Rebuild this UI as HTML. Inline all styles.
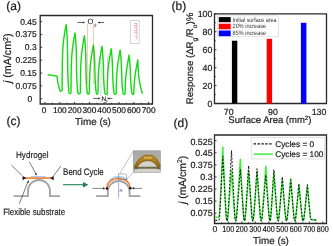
<!DOCTYPE html>
<html><head><meta charset="utf-8"><style>
html,body{margin:0;padding:0;background:#fff;width:333px;height:246px;overflow:hidden}
svg{display:block;will-change:transform}
body{-webkit-font-smoothing:antialiased}
text{text-rendering:geometricPrecision;font-family:"Liberation Sans", sans-serif;stroke:#1a1a1a;stroke-width:0.2px}
</style></head><body>
<svg width="333" height="246" viewBox="0 0 333 246">
<rect width="333" height="246" fill="#fff"/>
<text x="6.3" y="9.8" font-size="12" fill="#1a1a1a">(a)</text>
<path d="M40.2,15.5 H152.5 V104.0 H40.2 Z" fill="none" stroke="#2a2a2a" stroke-width="1.3"/>
<text x="29.8" y="101.7" font-size="8.5" text-anchor="middle" fill="#1a1a1a">0</text>
<text x="36.7" y="88.85" font-size="8.5" text-anchor="end" fill="#1a1a1a">0.075</text>
<text x="36.7" y="76" font-size="8.5" text-anchor="end" fill="#1a1a1a">0.15</text>
<text x="36.7" y="63.16" font-size="8.5" text-anchor="end" fill="#1a1a1a">0.225</text>
<text x="36.7" y="50.31" font-size="8.5" text-anchor="end" fill="#1a1a1a">0.3</text>
<text x="36.7" y="37.46" font-size="8.5" text-anchor="end" fill="#1a1a1a">0.375</text>
<text x="36.7" y="24.62" font-size="8.5" text-anchor="end" fill="#1a1a1a">0.45</text>
<text x="44" y="113.2" font-size="8.3" text-anchor="middle" fill="#1a1a1a">0</text>
<text x="59.8" y="113.2" font-size="8.3" text-anchor="middle" fill="#1a1a1a">100</text>
<text x="74.6" y="113.2" font-size="8.3" text-anchor="middle" fill="#1a1a1a">200</text>
<text x="89.4" y="113.2" font-size="8.3" text-anchor="middle" fill="#1a1a1a">300</text>
<text x="104.2" y="113.2" font-size="8.3" text-anchor="middle" fill="#1a1a1a">400</text>
<text x="119" y="113.2" font-size="8.3" text-anchor="middle" fill="#1a1a1a">500</text>
<text x="133.8" y="113.2" font-size="8.3" text-anchor="middle" fill="#1a1a1a">600</text>
<text x="148.6" y="113.2" font-size="8.3" text-anchor="middle" fill="#1a1a1a">700</text>
<path d="M40.2,98.7 h2 M40.2,85.85 h2 M40.2,73 h2 M40.2,60.16 h2 M40.2,47.31 h2 M40.2,34.46 h2 M40.2,21.62 h2 M45,104.0 v-2 M52.4,104.0 v-1.2 M59.8,104.0 v-2 M67.2,104.0 v-1.2 M74.6,104.0 v-2 M82,104.0 v-1.2 M89.4,104.0 v-2 M96.8,104.0 v-1.2 M104.2,104.0 v-2 M111.6,104.0 v-1.2 M119,104.0 v-2 M126.4,104.0 v-1.2 M133.8,104.0 v-2 M141.2,104.0 v-1.2 M148.6,104.0 v-2 " stroke="#2a2a2a" stroke-width="0.9" fill="none"/>
<text x="93" y="124.5" font-size="9.9" text-anchor="middle" fill="#1a1a1a">Time (s)</text>
<text transform="translate(11.4,58.3) rotate(-90)" font-size="10.7" text-anchor="middle" fill="#1a1a1a"><tspan font-style="italic">j</tspan> (mA/cm<tspan font-size="7" dy="-3.8">2</tspan><tspan dy="3.8">)</tspan></text>
<path d="M47.47,74.63 L47.78,74.67 L48.19,74.74 L48.63,74.8 L49.08,74.87 L49.52,74.94 L49.97,75.01 L50.41,75.08 L50.86,75.14 L51.3,75.21 L51.75,75.28 L52.19,75.35 L52.64,75.42 L53.08,75.49 L53.53,75.55 L53.97,75.62 L54.42,75.69 L54.86,75.76 L55.31,75.83 L55.75,75.89 L56.19,75.96 L56.61,76.06 L56.93,76.24 L57.1,76.57 L57.17,76.99 L57.22,77.43 L57.26,77.88 L57.31,78.33 L57.35,78.77 L57.4,79.22 L57.46,79.67 L57.51,80.12 L57.57,80.56 L57.64,81.01 L57.7,81.45 L57.77,81.9 L57.85,82.34 L57.93,82.78 L58.01,83.23 L58.1,83.67 L58.19,84.11 L58.28,84.55 L58.38,84.99 L58.49,85.42 L58.6,85.86 L58.71,86.3 L58.83,86.73 L58.95,87.16 L59.08,87.59 L59.22,88.02 L59.35,88.45 L59.46,88.89 L59.54,89.33 L59.63,89.76 L59.76,90.19 L59.96,90.58 L60.24,90.91 L60.59,91.13 L60.99,91.18 L61.37,91.05 L61.69,90.77 L61.93,90.41 L62.1,90 L62.2,89.58 L62.22,89.17 L62.17,88.8 L62.12,88.41 L62.11,87.97 L62.1,87.53 L62.11,87.08 L62.11,86.63 L62.11,86.18 L62.11,85.73 L62.11,85.28 L62.11,84.83 L62.12,84.38 L62.12,83.93 L62.12,83.48 L62.12,83.03 L62.12,82.58 L62.13,82.13 L62.13,81.68 L62.13,81.23 L62.13,80.78 L62.13,80.33 L62.14,79.88 L62.14,79.43 L62.14,78.98 L62.14,78.53 L62.15,78.08 L62.15,77.63 L62.15,77.18 L62.16,76.73 L62.16,76.28 L62.16,75.83 L62.16,75.38 L62.17,74.93 L62.17,74.48 L62.18,74.03 L62.18,73.58 L62.18,73.13 L62.19,72.68 L62.19,72.23 L62.2,71.78 L62.2,71.33 L62.2,70.88 L62.21,70.43 L62.21,69.98 L62.22,69.53 L62.22,69.08 L62.23,68.63 L62.24,68.18 L62.24,67.73 L62.25,67.28 L62.25,66.83 L62.26,66.38 L62.26,65.93 L62.27,65.48 L62.28,65.03 L62.29,64.58 L62.3,64.13 L62.3,63.68 L62.31,63.23 L62.32,62.78 L62.33,62.33 L62.34,61.88 L62.35,61.43 L62.36,60.98 L62.37,60.53 L62.38,60.08 L62.39,59.63 L62.4,59.18 L62.42,58.73 L62.43,58.28 L62.44,57.83 L62.45,57.38 L62.47,56.93 L62.48,56.48 L62.5,56.03 L62.51,55.58 L62.53,55.13 L62.55,54.68 L62.57,54.23 L62.59,53.78 L62.6,53.33 L62.62,52.88 L62.64,52.43 L62.66,51.98 L62.69,51.53 L62.71,51.08 L62.74,50.63 L62.77,50.18 L62.79,49.74 L62.82,49.29 L62.85,48.84 L62.88,48.39 L62.9,47.94 L62.93,47.49 L62.97,47.04 L63,46.59 L63.04,46.14 L63.08,45.7 L63.12,45.25 L63.16,44.8 L63.2,44.35 L63.24,43.9 L63.28,43.45 L63.32,43.01 L63.37,42.56 L63.42,42.11 L63.47,41.66 L63.52,41.22 L63.58,40.77 L63.63,40.32 L63.68,39.88 L63.73,39.43 L63.79,38.98 L63.84,38.54 L63.9,38.09 L63.96,37.64 L64.03,37.2 L64.09,36.75 L64.16,36.31 L64.22,35.86 L64.29,35.42 L64.35,34.97 L64.42,34.53 L64.48,34.08 L64.55,33.64 L64.62,33.19 L64.69,32.75 L64.77,32.3 L64.84,31.86 L64.91,31.42 L64.98,30.97 L65.06,30.53 L65.13,30.08 L65.2,29.64 L65.27,29.2 L65.35,28.75 L65.42,28.31 L65.5,27.86 L65.57,27.42 L65.65,26.98 L65.72,26.53 L65.8,26.09 L65.87,25.65 L65.95,25.21 L66.02,24.83 L66.09,24.65 L66.14,24.81 L66.18,25.19 L66.22,25.63 L66.27,26.08 L66.31,26.53 L66.35,26.97 L66.39,27.42 L66.43,27.87 L66.47,28.32 L66.52,28.77 L66.56,29.22 L66.59,29.66 L66.63,30.11 L66.67,30.56 L66.71,31.01 L66.74,31.46 L66.78,31.91 L66.82,32.35 L66.86,32.8 L66.89,33.25 L66.93,33.7 L66.96,34.15 L66.99,34.6 L67.02,35.05 L67.04,35.5 L67.07,35.95 L67.09,36.39 L67.12,36.84 L67.15,37.29 L67.17,37.74 L67.2,38.19 L67.22,38.64 L67.24,39.09 L67.26,39.54 L67.28,39.99 L67.29,40.44 L67.31,40.89 L67.32,41.34 L67.34,41.79 L67.35,42.24 L67.37,42.69 L67.38,43.14 L67.4,43.59 L67.41,44.04 L67.42,44.49 L67.42,44.94 L67.43,45.39 L67.44,45.84 L67.45,46.29 L67.46,46.74 L67.47,47.19 L67.48,47.64 L67.48,48.09 L67.49,48.54 L67.5,48.99 L67.5,49.44 L67.51,49.89 L67.51,50.34 L67.52,50.79 L67.52,51.24 L67.53,51.69 L67.54,52.14 L67.54,52.59 L67.55,53.04 L67.55,53.49 L67.56,53.94 L67.56,54.39 L67.56,54.84 L67.57,55.29 L67.57,55.74 L67.58,56.19 L67.58,56.64 L67.59,57.09 L67.59,57.54 L67.6,57.99 L67.6,58.44 L67.61,58.89 L67.61,59.34 L67.62,59.79 L67.62,60.24 L67.63,60.69 L67.63,61.14 L67.64,61.59 L67.64,62.04 L67.65,62.49 L67.65,62.94 L67.66,63.39 L67.66,63.84 L67.67,64.29 L67.68,64.74 L67.69,65.19 L67.69,65.64 L67.7,66.09 L67.71,66.54 L67.71,66.99 L67.72,67.44 L67.73,67.89 L67.74,68.34 L67.75,68.79 L67.76,69.24 L67.77,69.69 L67.78,70.14 L67.79,70.59 L67.8,71.04 L67.81,71.49 L67.81,71.94 L67.83,72.39 L67.84,72.84 L67.85,73.29 L67.86,73.74 L67.88,74.19 L67.89,74.64 L67.91,75.09 L67.92,75.54 L67.94,75.99 L67.95,76.44 L67.96,76.88 L67.98,77.33 L68,77.78 L68.02,78.23 L68.04,78.68 L68.06,79.13 L68.08,79.58 L68.1,80.03 L68.12,80.48 L68.14,80.93 L68.16,81.38 L68.18,81.83 L68.2,82.28 L68.22,82.73 L68.25,83.18 L68.28,83.63 L68.31,84.08 L68.33,84.53 L68.36,84.98 L68.39,85.42 L68.42,85.87 L68.44,86.32 L68.47,86.77 L68.5,87.22 L68.54,87.67 L68.58,88.12 L68.61,88.57 L68.65,89.02 L68.69,89.46 L68.73,89.91 L68.76,90.36 L68.8,90.81 L68.84,91.26 L68.88,91.71 L68.92,92.15 L69,92.59 L69.14,93.01 L69.37,93.37 L69.69,93.61 L70.06,93.65 L70.41,93.49 L70.68,93.17 L70.85,92.77 L70.95,92.33 L70.99,91.89 L71,91.44 L71,90.99 L71.01,90.54 L71.01,90.09 L71.01,89.64 L71.01,89.19 L71.02,88.74 L71.02,88.29 L71.02,87.84 L71.02,87.39 L71.03,86.94 L71.03,86.49 L71.03,86.04 L71.03,85.59 L71.04,85.14 L71.04,84.69 L71.04,84.24 L71.05,83.79 L71.05,83.34 L71.05,82.89 L71.06,82.44 L71.06,81.99 L71.06,81.54 L71.07,81.09 L71.07,80.64 L71.08,80.19 L71.08,79.74 L71.08,79.29 L71.09,78.84 L71.09,78.39 L71.1,77.94 L71.1,77.49 L71.11,77.04 L71.11,76.59 L71.12,76.14 L71.13,75.69 L71.13,75.24 L71.14,74.79 L71.14,74.34 L71.15,73.89 L71.16,73.44 L71.17,72.99 L71.17,72.54 L71.18,72.09 L71.19,71.64 L71.2,71.19 L71.21,70.74 L71.22,70.29 L71.23,69.84 L71.24,69.39 L71.25,68.94 L71.26,68.49 L71.27,68.04 L71.28,67.59 L71.29,67.14 L71.3,66.69 L71.31,66.24 L71.33,65.79 L71.34,65.34 L71.36,64.89 L71.38,64.44 L71.39,63.99 L71.41,63.54 L71.42,63.09 L71.44,62.64 L71.46,62.19 L71.48,61.74 L71.5,61.29 L71.52,60.84 L71.54,60.4 L71.57,59.95 L71.59,59.5 L71.61,59.05 L71.63,58.6 L71.66,58.15 L71.68,57.7 L71.72,57.25 L71.75,56.8 L71.78,56.35 L71.81,55.9 L71.84,55.45 L71.88,55.01 L71.91,54.56 L71.94,54.11 L71.98,53.66 L72.02,53.21 L72.06,52.76 L72.11,52.32 L72.15,51.87 L72.2,51.42 L72.24,50.97 L72.28,50.52 L72.33,50.08 L72.38,49.63 L72.43,49.18 L72.48,48.74 L72.54,48.29 L72.6,47.84 L72.65,47.4 L72.71,46.95 L72.77,46.5 L72.83,46.06 L72.88,45.61 L72.94,45.16 L73.01,44.72 L73.08,44.27 L73.14,43.83 L73.21,43.38 L73.28,42.94 L73.35,42.49 L73.41,42.05 L73.48,41.6 L73.55,41.16 L73.62,40.72 L73.69,40.27 L73.77,39.83 L73.84,39.38 L73.92,38.94 L73.99,38.5 L74.06,38.05 L74.14,37.61 L74.21,37.16 L74.28,36.72 L74.36,36.28 L74.43,35.83 L74.51,35.39 L74.58,34.95 L74.66,34.5 L74.74,34.06 L74.81,33.62 L74.89,33.2 L74.96,32.9 L75.01,32.9 L75.06,33.19 L75.1,33.62 L75.15,34.06 L75.19,34.51 L75.23,34.96 L75.27,35.41 L75.31,35.86 L75.36,36.3 L75.4,36.75 L75.44,37.2 L75.48,37.65 L75.51,38.1 L75.55,38.55 L75.59,38.99 L75.63,39.44 L75.67,39.89 L75.71,40.34 L75.75,40.79 L75.78,41.24 L75.81,41.68 L75.84,42.13 L75.87,42.58 L75.9,43.03 L75.93,43.48 L75.96,43.93 L75.99,44.38 L76.02,44.83 L76.05,45.28 L76.07,45.73 L76.09,46.18 L76.11,46.63 L76.13,47.08 L76.15,47.52 L76.17,47.97 L76.19,48.42 L76.21,48.87 L76.23,49.32 L76.24,49.77 L76.25,50.22 L76.27,50.67 L76.28,51.12 L76.29,51.57 L76.3,52.02 L76.31,52.47 L76.33,52.92 L76.34,53.37 L76.35,53.82 L76.36,54.27 L76.37,54.72 L76.37,55.17 L76.38,55.62 L76.39,56.07 L76.4,56.52 L76.4,56.97 L76.41,57.42 L76.42,57.87 L76.43,58.32 L76.43,58.77 L76.44,59.22 L76.44,59.67 L76.45,60.12 L76.46,60.57 L76.46,61.02 L76.47,61.47 L76.47,61.92 L76.48,62.37 L76.49,62.82 L76.49,63.27 L76.5,63.72 L76.51,64.17 L76.51,64.62 L76.52,65.07 L76.52,65.52 L76.53,65.97 L76.54,66.42 L76.55,66.87 L76.55,67.32 L76.56,67.77 L76.57,68.22 L76.58,68.67 L76.59,69.12 L76.59,69.57 L76.6,70.02 L76.61,70.47 L76.62,70.92 L76.63,71.37 L76.64,71.82 L76.65,72.27 L76.66,72.72 L76.68,73.17 L76.69,73.62 L76.7,74.07 L76.71,74.52 L76.72,74.97 L76.74,75.42 L76.75,75.87 L76.77,76.32 L76.78,76.77 L76.8,77.22 L76.82,77.67 L76.83,78.12 L76.85,78.57 L76.87,79.02 L76.88,79.47 L76.91,79.92 L76.93,80.37 L76.95,80.82 L76.97,81.27 L77,81.71 L77.02,82.16 L77.04,82.61 L77.07,83.06 L77.09,83.51 L77.12,83.96 L77.15,84.41 L77.18,84.86 L77.21,85.31 L77.24,85.76 L77.27,86.21 L77.31,86.65 L77.34,87.1 L77.37,87.55 L77.41,88 L77.44,88.45 L77.49,88.9 L77.53,89.35 L77.57,89.79 L77.61,90.24 L77.66,90.69 L77.7,91.14 L77.74,91.59 L77.79,92.03 L77.85,92.48 L77.96,92.91 L78.14,93.3 L78.42,93.63 L78.78,93.84 L79.18,93.89 L79.57,93.77 L79.9,93.51 L80.14,93.15 L80.29,92.74 L80.37,92.3 L80.4,91.86 L80.4,91.41 L80.41,90.96 L80.41,90.51 L80.41,90.06 L80.41,89.61 L80.42,89.16 L80.42,88.71 L80.42,88.26 L80.43,87.81 L80.43,87.36 L80.43,86.91 L80.44,86.46 L80.44,86.01 L80.44,85.56 L80.45,85.11 L80.45,84.66 L80.45,84.21 L80.46,83.76 L80.46,83.31 L80.47,82.86 L80.47,82.41 L80.48,81.96 L80.48,81.51 L80.48,81.06 L80.49,80.61 L80.49,80.16 L80.5,79.71 L80.51,79.26 L80.51,78.81 L80.52,78.36 L80.53,77.91 L80.53,77.46 L80.54,77.01 L80.54,76.56 L80.55,76.11 L80.56,75.66 L80.57,75.21 L80.58,74.76 L80.58,74.31 L80.59,73.86 L80.6,73.41 L80.61,72.96 L80.62,72.51 L80.63,72.06 L80.64,71.61 L80.65,71.16 L80.66,70.71 L80.68,70.26 L80.69,69.81 L80.7,69.36 L80.71,68.91 L80.73,68.46 L80.74,68.01 L80.76,67.56 L80.77,67.11 L80.79,66.66 L80.81,66.21 L80.83,65.76 L80.84,65.31 L80.86,64.86 L80.88,64.41 L80.9,63.96 L80.92,63.51 L80.94,63.06 L80.97,62.61 L80.99,62.16 L81.02,61.72 L81.04,61.27 L81.07,60.82 L81.1,60.37 L81.12,59.92 L81.15,59.47 L81.19,59.02 L81.22,58.57 L81.26,58.12 L81.29,57.67 L81.33,57.23 L81.36,56.78 L81.4,56.33 L81.44,55.88 L81.48,55.43 L81.52,54.98 L81.57,54.54 L81.62,54.09 L81.67,53.64 L81.71,53.19 L81.76,52.75 L81.81,52.3 L81.86,51.85 L81.91,51.41 L81.97,50.96 L82.03,50.51 L82.09,50.07 L82.15,49.62 L82.21,49.17 L82.26,48.73 L82.32,48.28 L82.39,47.84 L82.45,47.39 L82.52,46.95 L82.59,46.5 L82.65,46.06 L82.72,45.61 L82.79,45.17 L82.86,44.72 L82.93,44.28 L83,43.83 L83.07,43.39 L83.14,42.94 L83.22,42.5 L83.29,42.06 L83.37,41.61 L83.44,41.17 L83.51,40.73 L83.59,40.28 L83.66,39.84 L83.74,39.39 L83.81,38.95 L83.89,38.51 L83.96,38.06 L84.04,37.62 L84.11,37.18 L84.19,36.73 L84.27,36.3 L84.34,35.96 L84.4,35.86 L84.45,36.1 L84.49,36.5 L84.54,36.94 L84.58,37.39 L84.62,37.84 L84.66,38.29 L84.7,38.74 L84.75,39.18 L84.79,39.63 L84.83,40.08 L84.87,40.53 L84.91,40.98 L84.94,41.43 L84.98,41.87 L85.02,42.32 L85.06,42.77 L85.1,43.22 L85.14,43.67 L85.17,44.12 L85.2,44.57 L85.23,45.01 L85.26,45.46 L85.3,45.91 L85.33,46.36 L85.36,46.81 L85.39,47.26 L85.42,47.71 L85.44,48.16 L85.46,48.61 L85.48,49.06 L85.51,49.51 L85.53,49.96 L85.55,50.41 L85.57,50.85 L85.59,51.3 L85.61,51.75 L85.62,52.2 L85.64,52.65 L85.65,53.1 L85.66,53.55 L85.68,54 L85.69,54.45 L85.7,54.9 L85.72,55.35 L85.73,55.8 L85.74,56.25 L85.75,56.7 L85.76,57.15 L85.77,57.6 L85.77,58.05 L85.78,58.5 L85.79,58.95 L85.8,59.4 L85.81,59.85 L85.82,60.3 L85.82,60.75 L85.83,61.2 L85.84,61.65 L85.84,62.1 L85.85,62.55 L85.86,63 L85.86,63.45 L85.87,63.9 L85.88,64.35 L85.88,64.8 L85.89,65.25 L85.9,65.7 L85.91,66.15 L85.91,66.6 L85.92,67.05 L85.93,67.5 L85.93,67.95 L85.94,68.4 L85.95,68.85 L85.96,69.3 L85.97,69.75 L85.98,70.2 L85.99,70.65 L85.99,71.1 L86,71.55 L86.01,72 L86.02,72.45 L86.04,72.9 L86.05,73.35 L86.06,73.8 L86.07,74.25 L86.08,74.7 L86.1,75.15 L86.11,75.6 L86.12,76.05 L86.14,76.5 L86.15,76.95 L86.17,77.4 L86.19,77.85 L86.21,78.3 L86.22,78.75 L86.24,79.2 L86.26,79.65 L86.28,80.1 L86.3,80.55 L86.32,81 L86.34,81.45 L86.37,81.89 L86.39,82.34 L86.42,82.79 L86.44,83.24 L86.46,83.69 L86.49,84.14 L86.52,84.59 L86.55,85.04 L86.58,85.49 L86.62,85.94 L86.65,86.39 L86.68,86.83 L86.72,87.28 L86.75,87.73 L86.79,88.18 L86.83,88.63 L86.87,89.08 L86.91,89.52 L86.96,89.97 L87,90.42 L87.05,90.87 L87.09,91.32 L87.14,91.76 L87.18,92.21 L87.24,92.66 L87.33,93.09 L87.49,93.5 L87.75,93.83 L88.09,94.04 L88.48,94.05 L88.82,93.86 L89.09,93.53 L89.26,93.13 L89.35,92.7 L89.39,92.25 L89.41,91.8 L89.41,91.35 L89.42,90.9 L89.42,90.45 L89.43,90 L89.43,89.55 L89.44,89.1 L89.44,88.65 L89.45,88.2 L89.45,87.75 L89.46,87.3 L89.47,86.85 L89.47,86.4 L89.48,85.95 L89.49,85.5 L89.49,85.05 L89.5,84.6 L89.51,84.15 L89.52,83.7 L89.53,83.25 L89.54,82.8 L89.55,82.35 L89.56,81.9 L89.57,81.45 L89.58,81 L89.59,80.55 L89.6,80.1 L89.61,79.65 L89.62,79.2 L89.63,78.75 L89.65,78.3 L89.66,77.85 L89.68,77.4 L89.69,76.95 L89.71,76.5 L89.72,76.05 L89.74,75.6 L89.76,75.15 L89.78,74.7 L89.8,74.26 L89.82,73.81 L89.84,73.36 L89.86,72.91 L89.88,72.46 L89.9,72.01 L89.92,71.56 L89.95,71.11 L89.98,70.66 L90.01,70.21 L90.03,69.76 L90.06,69.31 L90.09,68.86 L90.12,68.41 L90.15,67.97 L90.19,67.52 L90.23,67.07 L90.26,66.62 L90.3,66.17 L90.33,65.72 L90.37,65.27 L90.41,64.83 L90.46,64.38 L90.5,63.93 L90.55,63.48 L90.6,63.04 L90.64,62.59 L90.69,62.14 L90.74,61.69 L90.79,61.25 L90.85,60.8 L90.91,60.35 L90.96,59.91 L91.02,59.46 L91.08,59.01 L91.14,58.57 L91.2,58.12 L91.26,57.68 L91.33,57.23 L91.39,56.79 L91.46,56.34 L91.53,55.9 L91.59,55.45 L91.66,55.01 L91.73,54.56 L91.8,54.12 L91.87,53.67 L91.95,53.23 L92.02,52.78 L92.09,52.34 L92.16,51.9 L92.24,51.45 L92.31,51.01 L92.39,50.56 L92.47,50.12 L92.54,49.68 L92.62,49.23 L92.69,48.79 L92.77,48.35 L92.85,47.9 L92.92,47.46 L93,47.02 L93.08,46.57 L93.15,46.13 L93.23,45.69 L93.3,45.29 L93.37,45.06 L93.43,45.16 L93.47,45.51 L93.52,45.94 L93.56,46.39 L93.6,46.84 L93.64,47.29 L93.69,47.74 L93.73,48.18 L93.77,48.63 L93.81,49.08 L93.85,49.53 L93.89,49.98 L93.93,50.42 L93.97,50.87 L94.01,51.32 L94.05,51.77 L94.09,52.22 L94.12,52.67 L94.16,53.12 L94.19,53.56 L94.23,54.01 L94.26,54.46 L94.29,54.91 L94.32,55.36 L94.35,55.81 L94.38,56.26 L94.41,56.71 L94.43,57.16 L94.46,57.61 L94.49,58.05 L94.51,58.5 L94.53,58.95 L94.55,59.4 L94.57,59.85 L94.59,60.3 L94.61,60.75 L94.63,61.2 L94.64,61.65 L94.66,62.1 L94.67,62.55 L94.69,63 L94.7,63.45 L94.71,63.9 L94.73,64.35 L94.74,64.8 L94.75,65.25 L94.76,65.7 L94.77,66.15 L94.79,66.6 L94.8,67.05 L94.81,67.5 L94.82,67.95 L94.83,68.4 L94.84,68.85 L94.85,69.3 L94.86,69.75 L94.87,70.2 L94.88,70.65 L94.89,71.1 L94.9,71.55 L94.91,72 L94.92,72.45 L94.93,72.9 L94.94,73.35 L94.95,73.8 L94.97,74.25 L94.98,74.7 L94.99,75.15 L95,75.6 L95.02,76.05 L95.03,76.5 L95.05,76.95 L95.06,77.4 L95.08,77.85 L95.09,78.3 L95.11,78.75 L95.13,79.2 L95.15,79.65 L95.17,80.09 L95.19,80.54 L95.21,80.99 L95.23,81.44 L95.25,81.89 L95.28,82.34 L95.31,82.79 L95.33,83.24 L95.36,83.69 L95.39,84.14 L95.42,84.59 L95.45,85.04 L95.48,85.49 L95.52,85.93 L95.55,86.38 L95.59,86.83 L95.63,87.28 L95.67,87.73 L95.71,88.18 L95.75,88.62 L95.8,89.07 L95.85,89.52 L95.9,89.97 L95.95,90.41 L96,90.86 L96.06,91.31 L96.11,91.75 L96.16,92.2 L96.21,92.65 L96.28,93.09 L96.41,93.51 L96.62,93.88 L96.92,94.1 L97.27,94.1 L97.58,93.88 L97.79,93.51 L97.91,93.09 L97.97,92.65 L98,92.2 L98.01,91.75 L98.01,91.3 L98.02,90.85 L98.03,90.4 L98.03,89.95 L98.04,89.5 L98.04,89.05 L98.05,88.6 L98.06,88.15 L98.06,87.7 L98.07,87.25 L98.08,86.8 L98.08,86.35 L98.09,85.9 L98.1,85.45 L98.11,85 L98.12,84.55 L98.13,84.1 L98.14,83.65 L98.15,83.2 L98.16,82.75 L98.17,82.3 L98.18,81.85 L98.19,81.4 L98.2,80.95 L98.21,80.5 L98.23,80.05 L98.24,79.6 L98.25,79.15 L98.27,78.7 L98.28,78.25 L98.3,77.8 L98.32,77.35 L98.33,76.91 L98.35,76.46 L98.37,76.01 L98.39,75.56 L98.41,75.11 L98.43,74.66 L98.45,74.21 L98.47,73.76 L98.5,73.31 L98.52,72.86 L98.54,72.41 L98.57,71.96 L98.6,71.51 L98.63,71.06 L98.66,70.61 L98.69,70.16 L98.72,69.72 L98.75,69.27 L98.78,68.82 L98.82,68.37 L98.86,67.92 L98.9,67.47 L98.93,67.02 L98.97,66.58 L99.01,66.13 L99.06,65.68 L99.1,65.23 L99.15,64.78 L99.2,64.34 L99.25,63.89 L99.29,63.44 L99.34,62.99 L99.4,62.55 L99.45,62.1 L99.51,61.65 L99.57,61.21 L99.63,60.76 L99.68,60.32 L99.74,59.87 L99.8,59.42 L99.87,58.98 L99.93,58.53 L100,58.09 L100.07,57.64 L100.13,57.2 L100.2,56.75 L100.27,56.31 L100.34,55.86 L100.41,55.42 L100.48,54.98 L100.56,54.53 L100.63,54.09 L100.7,53.64 L100.78,53.2 L100.85,52.76 L100.93,52.31 L101,51.87 L101.08,51.42 L101.15,50.98 L101.23,50.54 L101.31,50.09 L101.38,49.65 L101.46,49.21 L101.54,48.76 L101.61,48.32 L101.69,47.88 L101.77,47.43 L101.84,47 L101.92,46.62 L101.99,46.45 L102.04,46.62 L102.08,47 L102.13,47.44 L102.17,47.89 L102.21,48.34 L102.25,48.78 L102.3,49.23 L102.34,49.68 L102.38,50.13 L102.42,50.58 L102.46,51.03 L102.5,51.47 L102.54,51.92 L102.58,52.37 L102.62,52.82 L102.66,53.27 L102.69,53.72 L102.73,54.16 L102.77,54.61 L102.8,55.06 L102.84,55.51 L102.87,55.96 L102.9,56.41 L102.93,56.86 L102.96,57.31 L102.99,57.75 L103.01,58.2 L103.04,58.65 L103.07,59.1 L103.09,59.55 L103.12,60 L103.14,60.45 L103.16,60.9 L103.18,61.35 L103.2,61.8 L103.22,62.25 L103.23,62.7 L103.25,63.15 L103.26,63.6 L103.28,64.05 L103.29,64.5 L103.31,64.95 L103.32,65.4 L103.34,65.85 L103.35,66.3 L103.36,66.75 L103.37,67.2 L103.38,67.65 L103.39,68.1 L103.4,68.55 L103.42,69 L103.43,69.45 L103.44,69.9 L103.45,70.35 L103.46,70.8 L103.47,71.25 L103.48,71.7 L103.49,72.15 L103.5,72.6 L103.51,73.05 L103.52,73.5 L103.54,73.95 L103.55,74.4 L103.56,74.85 L103.57,75.29 L103.59,75.74 L103.6,76.19 L103.62,76.64 L103.63,77.09 L103.65,77.54 L103.66,77.99 L103.68,78.44 L103.69,78.89 L103.71,79.34 L103.73,79.79 L103.75,80.24 L103.78,80.69 L103.8,81.14 L103.82,81.59 L103.84,82.04 L103.86,82.49 L103.89,82.94 L103.92,83.39 L103.95,83.84 L103.98,84.29 L104.01,84.73 L104.04,85.18 L104.07,85.63 L104.1,86.08 L104.14,86.53 L104.18,86.98 L104.22,87.43 L104.26,87.87 L104.31,88.32 L104.35,88.77 L104.39,89.22 L104.44,89.67 L104.5,90.11 L104.55,90.56 L104.6,91.01 L104.66,91.45 L104.71,91.9 L104.77,92.35 L104.83,92.79 L104.92,93.23 L105.08,93.63 L105.33,93.98 L105.67,94.22 L106.06,94.28 L106.44,94.16 L106.76,93.88 L106.98,93.51 L107.11,93.09 L107.18,92.65 L107.2,92.21 L107.21,91.76 L107.22,91.31 L107.22,90.86 L107.23,90.41 L107.24,89.96 L107.24,89.51 L107.25,89.06 L107.26,88.61 L107.27,88.16 L107.28,87.71 L107.29,87.26 L107.29,86.81 L107.3,86.36 L107.31,85.91 L107.32,85.46 L107.33,85.01 L107.35,84.56 L107.36,84.11 L107.37,83.66 L107.38,83.21 L107.39,82.76 L107.41,82.31 L107.42,81.86 L107.43,81.41 L107.45,80.96 L107.46,80.51 L107.48,80.06 L107.5,79.61 L107.51,79.16 L107.53,78.71 L107.55,78.26 L107.57,77.81 L107.59,77.36 L107.61,76.91 L107.63,76.46 L107.66,76.01 L107.68,75.56 L107.71,75.11 L107.73,74.66 L107.76,74.21 L107.78,73.77 L107.81,73.32 L107.84,72.87 L107.88,72.42 L107.91,71.97 L107.94,71.52 L107.97,71.07 L108.01,70.62 L108.05,70.17 L108.09,69.73 L108.13,69.28 L108.17,68.83 L108.21,68.38 L108.25,67.93 L108.3,67.49 L108.34,67.04 L108.39,66.59 L108.44,66.14 L108.5,65.7 L108.55,65.25 L108.6,64.8 L108.65,64.36 L108.71,63.91 L108.77,63.46 L108.83,63.02 L108.89,62.57 L108.95,62.13 L109.01,61.68 L109.07,61.23 L109.14,60.79 L109.21,60.34 L109.28,59.9 L109.34,59.45 L109.41,59.01 L109.48,58.57 L109.55,58.12 L109.62,57.68 L109.7,57.23 L109.77,56.79 L109.84,56.34 L109.92,55.9 L109.99,55.46 L110.07,55.01 L110.14,54.57 L110.22,54.13 L110.3,53.68 L110.37,53.24 L110.45,52.8 L110.53,52.35 L110.6,51.91 L110.68,51.47 L110.76,51.02 L110.84,50.58 L110.91,50.14 L110.99,49.69 L111.07,49.26 L111.14,48.93 L111.2,48.87 L111.25,49.12 L111.3,49.54 L111.34,49.98 L111.38,50.43 L111.43,50.88 L111.47,51.33 L111.51,51.78 L111.55,52.22 L111.59,52.67 L111.63,53.12 L111.68,53.57 L111.72,54.02 L111.76,54.46 L111.8,54.91 L111.83,55.36 L111.87,55.81 L111.91,56.26 L111.94,56.71 L111.98,57.15 L112.02,57.6 L112.05,58.05 L112.08,58.5 L112.11,58.95 L112.14,59.4 L112.17,59.85 L112.2,60.3 L112.23,60.75 L112.26,61.2 L112.28,61.64 L112.3,62.09 L112.32,62.54 L112.35,62.99 L112.37,63.44 L112.39,63.89 L112.41,64.34 L112.43,64.79 L112.44,65.24 L112.46,65.69 L112.47,66.14 L112.49,66.59 L112.51,67.04 L112.52,67.49 L112.53,67.94 L112.55,68.39 L112.56,68.84 L112.57,69.29 L112.58,69.74 L112.6,70.19 L112.61,70.64 L112.62,71.09 L112.63,71.54 L112.65,71.99 L112.66,72.44 L112.67,72.89 L112.68,73.34 L112.69,73.79 L112.71,74.24 L112.72,74.69 L112.73,75.14 L112.75,75.59 L112.76,76.04 L112.77,76.49 L112.79,76.94 L112.8,77.39 L112.82,77.84 L112.84,78.29 L112.85,78.74 L112.87,79.19 L112.89,79.64 L112.91,80.08 L112.93,80.53 L112.95,80.98 L112.97,81.43 L113,81.88 L113.02,82.33 L113.04,82.78 L113.07,83.23 L113.1,83.68 L113.13,84.13 L113.16,84.58 L113.19,85.03 L113.22,85.48 L113.26,85.92 L113.29,86.37 L113.33,86.82 L113.37,87.27 L113.42,87.72 L113.46,88.17 L113.5,88.61 L113.55,89.06 L113.59,89.51 L113.65,89.96 L113.7,90.4 L113.76,90.85 L113.82,91.29 L113.88,91.74 L113.93,92.19 L113.99,92.63 L114.06,93.08 L114.17,93.51 L114.35,93.9 L114.63,94.21 L114.99,94.36 L115.38,94.31 L115.7,94.08 L115.94,93.73 L116.09,93.31 L116.17,92.88 L116.2,92.43 L116.21,91.98 L116.22,91.53 L116.23,91.08 L116.23,90.63 L116.24,90.18 L116.25,89.73 L116.26,89.28 L116.26,88.83 L116.27,88.38 L116.28,87.93 L116.29,87.48 L116.3,87.03 L116.31,86.58 L116.32,86.13 L116.33,85.68 L116.34,85.23 L116.36,84.78 L116.37,84.33 L116.38,83.88 L116.39,83.43 L116.41,82.98 L116.42,82.53 L116.44,82.08 L116.45,81.63 L116.47,81.18 L116.48,80.73 L116.5,80.28 L116.52,79.83 L116.54,79.38 L116.56,78.93 L116.58,78.48 L116.6,78.03 L116.62,77.58 L116.65,77.14 L116.67,76.69 L116.7,76.24 L116.72,75.79 L116.75,75.34 L116.78,74.89 L116.8,74.44 L116.83,73.99 L116.87,73.54 L116.9,73.09 L116.94,72.64 L116.97,72.2 L117,71.75 L117.04,71.3 L117.08,70.85 L117.12,70.4 L117.16,69.95 L117.21,69.51 L117.25,69.06 L117.29,68.61 L117.34,68.16 L117.39,67.72 L117.44,67.27 L117.49,66.82 L117.55,66.37 L117.6,65.93 L117.65,65.48 L117.71,65.03 L117.77,64.59 L117.83,64.14 L117.89,63.7 L117.95,63.25 L118.01,62.81 L118.08,62.36 L118.14,61.91 L118.21,61.47 L118.28,61.02 L118.35,60.58 L118.42,60.14 L118.49,59.69 L118.56,59.25 L118.63,58.8 L118.7,58.36 L118.78,57.91 L118.85,57.47 L118.93,57.03 L119,56.58 L119.08,56.14 L119.15,55.7 L119.23,55.25 L119.31,54.81 L119.38,54.37 L119.46,53.92 L119.54,53.48 L119.61,53.03 L119.69,52.59 L119.77,52.15 L119.85,51.71 L119.93,51.26 L120,50.82 L120.08,50.4 L120.15,50.1 L120.21,50.1 L120.26,50.39 L120.31,50.81 L120.35,51.26 L120.39,51.71 L120.43,52.15 L120.48,52.6 L120.52,53.05 L120.56,53.5 L120.6,53.95 L120.64,54.39 L120.68,54.84 L120.72,55.29 L120.76,55.74 L120.8,56.19 L120.84,56.64 L120.88,57.08 L120.91,57.53 L120.95,57.98 L120.99,58.43 L121.02,58.88 L121.06,59.33 L121.09,59.78 L121.12,60.22 L121.15,60.67 L121.18,61.12 L121.21,61.57 L121.24,62.02 L121.26,62.47 L121.28,62.92 L121.31,63.37 L121.33,63.82 L121.35,64.27 L121.37,64.72 L121.4,65.17 L121.41,65.62 L121.43,66.07 L121.45,66.52 L121.46,66.97 L121.48,67.42 L121.5,67.87 L121.51,68.31 L121.53,68.76 L121.54,69.21 L121.55,69.66 L121.57,70.11 L121.58,70.56 L121.59,71.01 L121.61,71.46 L121.62,71.91 L121.63,72.36 L121.64,72.81 L121.66,73.26 L121.67,73.71 L121.68,74.16 L121.7,74.61 L121.71,75.06 L121.72,75.51 L121.74,75.96 L121.75,76.41 L121.76,76.86 L121.78,77.31 L121.8,77.76 L121.81,78.21 L121.83,78.66 L121.85,79.11 L121.87,79.56 L121.88,80.01 L121.9,80.46 L121.92,80.91 L121.95,81.36 L121.97,81.81 L122,82.26 L122.02,82.71 L122.04,83.16 L122.07,83.6 L122.1,84.05 L122.13,84.5 L122.16,84.95 L122.2,85.4 L122.23,85.85 L122.26,86.3 L122.3,86.75 L122.34,87.19 L122.39,87.64 L122.43,88.09 L122.47,88.54 L122.52,88.99 L122.57,89.43 L122.62,89.88 L122.67,90.33 L122.73,90.77 L122.79,91.22 L122.85,91.67 L122.91,92.11 L122.96,92.56 L123.02,93 L123.11,93.44 L123.26,93.85 L123.5,94.2 L123.83,94.42 L124.2,94.44 L124.55,94.26 L124.8,93.92 L124.97,93.52 L125.06,93.08 L125.1,92.64 L125.11,92.19 L125.13,91.74 L125.14,91.29 L125.15,90.84 L125.16,90.39 L125.17,89.94 L125.18,89.49 L125.2,89.04 L125.21,88.59 L125.22,88.14 L125.24,87.69 L125.25,87.24 L125.27,86.79 L125.29,86.34 L125.3,85.89 L125.32,85.44 L125.34,84.99 L125.36,84.54 L125.38,84.09 L125.4,83.64 L125.42,83.19 L125.45,82.74 L125.47,82.3 L125.49,81.85 L125.52,81.4 L125.55,80.95 L125.57,80.5 L125.6,80.05 L125.63,79.6 L125.66,79.15 L125.69,78.7 L125.73,78.25 L125.76,77.8 L125.8,77.36 L125.83,76.91 L125.87,76.46 L125.91,76.01 L125.96,75.56 L126,75.11 L126.04,74.67 L126.09,74.22 L126.13,73.77 L126.18,73.32 L126.23,72.88 L126.28,72.43 L126.34,71.98 L126.39,71.54 L126.44,71.09 L126.5,70.64 L126.56,70.2 L126.62,69.75 L126.68,69.31 L126.74,68.86 L126.8,68.41 L126.87,67.97 L126.94,67.52 L127,67.08 L127.07,66.63 L127.14,66.19 L127.21,65.74 L127.28,65.3 L127.35,64.86 L127.43,64.41 L127.5,63.97 L127.58,63.52 L127.65,63.08 L127.73,62.64 L127.8,62.19 L127.88,61.75 L127.96,61.31 L128.04,60.86 L128.11,60.42 L128.19,59.98 L128.27,59.53 L128.35,59.09 L128.43,58.65 L128.51,58.2 L128.59,57.76 L128.67,57.32 L128.75,56.88 L128.82,56.43 L128.9,55.99 L128.98,55.57 L129.06,55.29 L129.12,55.31 L129.17,55.61 L129.21,56.04 L129.25,56.49 L129.29,56.93 L129.34,57.38 L129.38,57.83 L129.42,58.28 L129.46,58.73 L129.51,59.17 L129.55,59.62 L129.59,60.07 L129.63,60.52 L129.67,60.97 L129.71,61.41 L129.75,61.86 L129.79,62.31 L129.83,62.76 L129.86,63.21 L129.9,63.66 L129.93,64.11 L129.96,64.55 L130,65 L130.03,65.45 L130.06,65.9 L130.09,66.35 L130.12,66.8 L130.15,67.25 L130.17,67.7 L130.2,68.15 L130.22,68.6 L130.25,69.05 L130.27,69.5 L130.29,69.94 L130.31,70.39 L130.33,70.84 L130.35,71.29 L130.37,71.74 L130.39,72.19 L130.41,72.64 L130.42,73.09 L130.44,73.54 L130.46,73.99 L130.48,74.44 L130.49,74.89 L130.51,75.34 L130.52,75.79 L130.54,76.24 L130.56,76.69 L130.57,77.14 L130.59,77.59 L130.61,78.04 L130.63,78.49 L130.64,78.94 L130.66,79.39 L130.68,79.84 L130.71,80.29 L130.73,80.74 L130.75,81.19 L130.77,81.64 L130.79,82.09 L130.82,82.53 L130.85,82.98 L130.88,83.43 L130.9,83.88 L130.93,84.33 L130.97,84.78 L131,85.23 L131.04,85.68 L131.08,86.13 L131.11,86.57 L131.15,87.02 L131.2,87.47 L131.24,87.92 L131.29,88.36 L131.34,88.81 L131.39,89.26 L131.45,89.71 L131.5,90.15 L131.57,90.6 L131.63,91.04 L131.7,91.49 L131.77,91.93 L131.83,92.38 L131.89,92.82 L131.96,93.27 L132.07,93.69 L132.26,94.08 L132.55,94.36 L132.9,94.44 L133.24,94.29 L133.5,93.97 L133.66,93.57 L133.75,93.14 L133.8,92.69 L133.82,92.24 L133.84,91.79 L133.85,91.34 L133.87,90.89 L133.89,90.44 L133.91,89.99 L133.93,89.54 L133.95,89.09 L133.97,88.64 L133.99,88.19 L134.01,87.75 L134.04,87.3 L134.06,86.85 L134.09,86.4 L134.11,85.95 L134.14,85.5 L134.17,85.05 L134.2,84.6 L134.23,84.15 L134.26,83.7 L134.3,83.25 L134.33,82.81 L134.37,82.36 L134.41,81.91 L134.44,81.46 L134.48,81.01 L134.52,80.56 L134.57,80.12 L134.61,79.67 L134.66,79.22 L134.7,78.77 L134.75,78.33 L134.8,77.88 L134.86,77.43 L134.91,76.98 L134.96,76.54 L135.02,76.09 L135.08,75.64 L135.14,75.2 L135.2,74.75 L135.26,74.31 L135.32,73.86 L135.39,73.42 L135.45,72.97 L135.52,72.53 L135.59,72.08 L135.66,71.64 L135.73,71.19 L135.8,70.75 L135.87,70.3 L135.95,69.86 L136.02,69.42 L136.1,68.97 L136.17,68.53 L136.25,68.09 L136.33,67.64 L136.41,67.2 L136.49,66.76 L136.57,66.31 L136.65,65.87 L136.73,65.43 L136.81,64.98 L136.89,64.54 L136.97,64.1 L137.05,63.66 L137.13,63.21 L137.21,62.77 L137.29,62.33 L137.38,61.89 L137.46,61.44 L137.54,61 L137.62,60.56 L137.7,60.17 L137.77,59.96 L137.81,60.08 L137.83,60.44 L137.85,60.87 L137.86,61.32 L137.88,61.77 L137.89,62.22 L137.91,62.67 L137.93,63.12 L137.95,63.57 L137.96,64.02 L137.98,64.47 L138,64.92 L138.02,65.37 L138.04,65.82 L138.06,66.27 L138.08,66.72 L138.1,67.17 L138.13,67.62 L138.15,68.07 L138.18,68.52 L138.2,68.97 L138.23,69.42 L138.26,69.86 L138.29,70.31 L138.32,70.76 L138.35,71.21 L138.38,71.66 L138.41,72.11 L138.45,72.56 L138.49,73.01 L138.52,73.46 L138.56,73.9 L138.6,74.35 L138.65,74.8 L138.69,75.25 L138.74,75.7 L138.78,76.14 L138.83,76.59 L138.88,77.04 L138.94,77.48 L138.99,77.93 L139.05,78.38 L139.1,78.82 L139.16,79.27 L139.23,79.72 L139.29,80.16 L139.36,80.61 L139.43,81.05 L139.5,81.49 L139.57,81.94 L139.65,82.38 L139.73,82.83 L139.81,83.27 L139.89,83.71 L139.97,84.15 L140.06,84.59 L140.15,85.03 L140.24,85.47 L140.34,85.91 L140.43,86.35 L140.53,86.79 L140.64,87.23 L140.75,87.67 L140.85,88.11 L140.96,88.54 L141.07,88.98 L141.19,89.41 L141.31,89.85 L141.44,90.28 L141.56,90.71 L141.68,91.14 L141.81,91.57 L141.95,92 L142.09,92.43 L142.23,92.86 L142.36,93.28 L142.49,93.65 L142.55,93.83" fill="none" stroke="#14da14" stroke-width="1.42" stroke-linejoin="round"/>
<path d="M87.4,24.5 V84 M93.4,24.5 V84" stroke="#f05050" stroke-width="0.6" stroke-dasharray="1.2,0.8" fill="none"/>
<path d="M101,57 V104 M107.5,57 V104" stroke="#888" stroke-width="0.6" stroke-dasharray="1.2,0.8" fill="none"/>
<path d="M77.4,22.5 H83.5 M104,22.5 H99" stroke="#222" stroke-width="0.7" fill="none"/>
<path d="M85,22.5 l-2.2,-1 v2 z M97.6,22.5 l2.2,-1 v2 z" fill="#222"/>
<text x="87.6" y="24.2" font-size="7.6" fill="#1a1a1a" style="stroke-width:0.1px">O</text><text x="94" y="26.6" font-size="4.6" fill="#1a1a1a" style="stroke-width:0">2</text>
<path d="M92.9,98.4 H99 M112.4,98.4 H108.8" stroke="#222" stroke-width="0.7" fill="none"/>
<path d="M100.4,98.4 l-2.2,-1 v2 z M107.4,98.4 l2.2,-1 v2 z" fill="#222"/>
<text x="101.4" y="101" font-size="6.6" fill="#1a1a1a" style="stroke-width:0.1px">N</text><text x="105" y="102.6" font-size="3.8" fill="#1a1a1a" style="stroke-width:0">2</text>
<rect x="130.4" y="20.4" width="8.8" height="23" fill="none" stroke="#c4c4c4" stroke-width="0.7"/>
<path d="M136.9,23 V39.6 M134,23.5 h2.9 M134,25.5 h2.9 M134,27.6 h2.9 M134.2,30.6 h2.7 M134.2,32.4 h2.7" stroke="#d87888" stroke-width="0.55" fill="none"/>
<path d="M134.4,35 h2.3 M134.4,37 h2.3" stroke="#b8b8b8" stroke-width="0.5"/>
<text x="171.6" y="9.8" font-size="12" fill="#1a1a1a">(b)</text>
<path d="M214.5,13.8 H326.5 V103.5 H214.5 Z" fill="none" stroke="#2a2a2a" stroke-width="1.3"/>
<text x="212.4" y="106.7" font-size="8.8" text-anchor="end" fill="#1a1a1a">0</text>
<text x="212.4" y="88.76" font-size="8.8" text-anchor="end" fill="#1a1a1a">20</text>
<text x="212.4" y="70.82" font-size="8.8" text-anchor="end" fill="#1a1a1a">40</text>
<text x="212.4" y="52.88" font-size="8.8" text-anchor="end" fill="#1a1a1a">60</text>
<text x="212.4" y="34.94" font-size="8.8" text-anchor="end" fill="#1a1a1a">80</text>
<text x="212.4" y="17" font-size="8.8" text-anchor="end" fill="#1a1a1a">100</text>
<path d="M214.5,103.5 h2 M214.5,94.53 h1.2 M214.5,85.56 h2 M214.5,76.59 h1.2 M214.5,67.62 h2 M214.5,58.65 h1.2 M214.5,49.68 h2 M214.5,40.71 h1.2 M214.5,31.74 h2 M214.5,22.77 h1.2 M214.5,13.8 h2 " stroke="#2a2a2a" stroke-width="0.9" fill="none"/>
<rect x="231.9" y="40.7" width="5.4" height="62.8" fill="#000"/>
<rect x="266.7" y="38.8" width="5.4" height="64.7" fill="#ff0000"/>
<rect x="300.9" y="22.8" width="5.5" height="80.7" fill="#0000ff"/>
<text x="228.7" y="114.6" font-size="8.8" text-anchor="middle" fill="#1a1a1a">70</text>
<text x="273" y="114.6" font-size="8.8" text-anchor="middle" fill="#1a1a1a">90</text>
<text x="319" y="114.6" font-size="8.8" text-anchor="middle" fill="#1a1a1a">130</text>
<text x="228.3" y="123.4" font-size="9.5" fill="#1a1a1a">Surface Area (mm<tspan font-size="6" dy="-3.6">2</tspan><tspan dy="3.6">)</tspan></text>
<text transform="translate(193.2,58.5) rotate(-90)" font-size="9.6" text-anchor="middle" fill="#1a1a1a" textLength="91.5" lengthAdjust="spacingAndGlyphs">Response (ΔR<tspan font-size="6.4" dy="4.2">g</tspan><tspan dy="-4.2">/R</tspan><tspan font-size="6.4" dy="4.2">o</tspan><tspan dy="-4.2">)%</tspan></text>
<rect x="217.3" y="15.9" width="61.2" height="20.9" fill="#fff" stroke="#cfcfcf" stroke-width="0.6"/>
<rect x="218.8" y="17.1" width="11.9" height="5.1" fill="#000"/>
<rect x="218.8" y="23.7" width="11.9" height="5.6" fill="#ff0000"/>
<rect x="218.8" y="30.5" width="11.9" height="5.7" fill="#0000ff"/>
<text x="232.6" y="21.7" font-size="6.2" fill="#333" style="stroke-width:0" textLength="44" lengthAdjust="spacingAndGlyphs">Initial surface area</text>
<text x="232.6" y="28.2" font-size="6.2" fill="#333" style="stroke-width:0" textLength="33.5" lengthAdjust="spacingAndGlyphs">20% increase</text>
<text x="232.6" y="35.3" font-size="6.2" fill="#333" style="stroke-width:0" textLength="33.5" lengthAdjust="spacingAndGlyphs">85% increase</text>
<text x="6.4" y="125.2" font-size="12" fill="#1a1a1a">(c)</text>
<text x="16" y="158.4" font-size="9.2" fill="#1a1a1a" textLength="32.5" lengthAdjust="spacingAndGlyphs" style="stroke-width:0.16px">Hydrogel</text>
<text x="63.1" y="175" font-size="9.4" fill="#1a1a1a" textLength="40.5" lengthAdjust="spacingAndGlyphs" style="stroke-width:0.16px">Bend Cycle</text>
<text x="3.2" y="215.2" font-size="9.2" fill="#1a1a1a" textLength="62" lengthAdjust="spacingAndGlyphs" style="stroke-width:0.16px">Flexible substrate</text>
<path d="M13.6,196.2 H28 V191 A11,11 0 0 1 50,191 V196.2 H60" fill="none" stroke="#a3a3a3" stroke-width="1.8"/>
<path d="M31.1,176.7 H45.8" stroke="#a8c8f0" stroke-width="1.3"/>
<path d="M25,178.1 H51" stroke="#f07a28" stroke-width="1.6"/>
<path d="M26.2,178.1 L22.6,176 V180.2 Z M50.1,178.1 L53.7,176 V180.2 Z" fill="#111"/>
<path d="M11.5,165.2 L22.5,176 M29.4,161.9 L36,174 M60.9,165.9 L53.5,175.8 M19.4,203.7 L27.8,182" stroke="#222" stroke-width="0.6" fill="none"/>
<path d="M37,175.6 l-2.6,-1.6 l1.9,-1.1 z M28.8,180 l-0.1,3 l-1.9,-0.7 z" fill="#222"/>
<path d="M63.1,184.7 H84" stroke="#1f7f50" stroke-width="1.1"/>
<path d="M88.4,184.7 L83,182 V187.4 Z" fill="#1f7f50"/>
<path d="M96.1,196.2 H107.8 V191.5 A10.9,10.5 0 0 1 129.6,191.5 V196.2 H140.3" fill="none" stroke="#a3a3a3" stroke-width="1.8"/>
<path d="M110.2,180.6 C112.5,178 115,177 118.6,177 C122,177 125,178 127.2,180.6" fill="none" stroke="#b4d0f2" stroke-width="2.4"/>
<path d="M106.8,188.3 C107.5,182 112,178.6 118.6,178.6 C125,178.6 129.5,182 130.3,188" fill="none" stroke="#ee7a2a" stroke-width="1.5"/>
<circle cx="106.9" cy="188.4" r="1.25" fill="#111"/><circle cx="130.3" cy="188.2" r="1.25" fill="#111"/>
<path d="M92.5,188.4 H104 M142,188.4 H133.2" stroke="#333" stroke-width="0.6"/>
<path d="M105.4,188.4 l-2.4,-1.2 v2.4 z M131.8,188.3 l2.4,-1.2 v2.4 z" fill="#222"/>
<path d="M118.6,182.6 V197.8" stroke="#6f6ff0" stroke-width="0.6"/>
<text x="119.6" y="191.8" font-size="4.2" fill="#444" style="stroke-width:0">R</text>
<rect x="118.6" y="174" width="8.1" height="5.4" fill="none" stroke="#555" stroke-width="0.4"/>
<path d="M119.6,174 L133.4,150.8 M126.7,179.2 L133.4,172.4" stroke="#666" stroke-width="0.4"/>
<defs><linearGradient id="pg" x1="0" y1="0" x2="0" y2="1"><stop offset="0" stop-color="#a8a8a4"/><stop offset="0.6" stop-color="#b2b2ac"/><stop offset="1" stop-color="#c4c3bb"/></linearGradient><linearGradient id="ag" x1="0" y1="0" x2="0" y2="1"><stop offset="0" stop-color="#c89428"/><stop offset="1" stop-color="#8a6010"/></linearGradient></defs>
<rect x="133.3" y="150.8" width="27.2" height="21.6" fill="url(#pg)" stroke="#888" stroke-width="0.5"/>
<path d="M135,168 C139,162.5 143,161.5 147.5,161.5 C152,161.5 156,163 159.8,168 V171.9 H135 Z" fill="#d2d1ca"/>
<path d="M134.3,167.6 C137,166.5 140,166.8 147.5,166.8 C155,166.8 158,166.5 160.3,167.6 L160.3,169.6 C157,168.8 153,168.8 147.5,168.8 C142,168.8 138,168.8 134.3,169.6 Z" fill="#5a5030" opacity="0.8"/>
<path d="M134.2,167.2 C136.5,161 141,155.2 148.6,155 C155,155 158.6,160.5 160.4,166.4 L157.8,167.6 C155.5,163 152,160.4 147.8,160.4 C142.5,160.5 139,163.5 136.8,168.2 Z" fill="url(#ag)" stroke="#6a4808" stroke-width="0.6"/>
<path d="M144.3,157.9 h7.5" stroke="#f0d890" stroke-width="1.4" stroke-dasharray="1.6,0.7"/>
<text x="173.6" y="126.6" font-size="12" fill="#1a1a1a">(d)</text>
<path d="M214.5,135.0 H326.5 V223.5 H214.5 Z" fill="none" stroke="#2a2a2a" stroke-width="1.3"/>
<text x="212.6" y="216.22" font-size="8.9" text-anchor="end" fill="#1a1a1a">0.075</text>
<text x="212.6" y="204.14" font-size="8.9" text-anchor="end" fill="#1a1a1a">0.15</text>
<text x="212.6" y="192.06" font-size="8.9" text-anchor="end" fill="#1a1a1a">0.225</text>
<text x="212.6" y="179.98" font-size="8.9" text-anchor="end" fill="#1a1a1a">0.3</text>
<text x="212.6" y="167.9" font-size="8.9" text-anchor="end" fill="#1a1a1a">0.375</text>
<text x="212.6" y="155.82" font-size="8.9" text-anchor="end" fill="#1a1a1a">0.45</text>
<text x="212.6" y="144.94" font-size="8.9" text-anchor="end" fill="#1a1a1a">0.525</text>
<text x="214.8" y="231.8" font-size="8.6" text-anchor="middle" fill="#1a1a1a">0</text>
<text x="228.3" y="231.8" font-size="8.6" text-anchor="middle" fill="#1a1a1a" textLength="12" lengthAdjust="spacingAndGlyphs">100</text>
<text x="241.8" y="231.8" font-size="8.6" text-anchor="middle" fill="#1a1a1a" textLength="12" lengthAdjust="spacingAndGlyphs">200</text>
<text x="255.3" y="231.8" font-size="8.6" text-anchor="middle" fill="#1a1a1a" textLength="12" lengthAdjust="spacingAndGlyphs">300</text>
<text x="268.8" y="231.8" font-size="8.6" text-anchor="middle" fill="#1a1a1a" textLength="12" lengthAdjust="spacingAndGlyphs">400</text>
<text x="282.3" y="231.8" font-size="8.6" text-anchor="middle" fill="#1a1a1a" textLength="12" lengthAdjust="spacingAndGlyphs">500</text>
<text x="295.8" y="231.8" font-size="8.6" text-anchor="middle" fill="#1a1a1a" textLength="12" lengthAdjust="spacingAndGlyphs">600</text>
<text x="309.3" y="231.8" font-size="8.6" text-anchor="middle" fill="#1a1a1a" textLength="12" lengthAdjust="spacingAndGlyphs">700</text>
<text x="322.8" y="231.8" font-size="8.6" text-anchor="middle" fill="#1a1a1a" textLength="12" lengthAdjust="spacingAndGlyphs">800</text>
<path d="M214.5,213.12 h2 M214.5,201.04 h2 M214.5,188.96 h2 M214.5,176.88 h2 M214.5,164.8 h2 M214.5,152.72 h2 M214.5,140.64 h2 M214.8,223.5 v-2 M221.55,223.5 v-1.2 M228.3,223.5 v-2 M235.05,223.5 v-1.2 M241.8,223.5 v-2 M248.55,223.5 v-1.2 M255.3,223.5 v-2 M262.05,223.5 v-1.2 M268.8,223.5 v-2 M275.55,223.5 v-1.2 M282.3,223.5 v-2 M289.05,223.5 v-1.2 M295.8,223.5 v-2 M302.55,223.5 v-1.2 M309.3,223.5 v-2 M316.05,223.5 v-1.2 M322.8,223.5 v-2 " stroke="#2a2a2a" stroke-width="0.9" fill="none"/>
<text x="271" y="243.8" font-size="9.9" text-anchor="middle" fill="#1a1a1a">Time (s)</text>
<text transform="translate(185.9,179.9) rotate(-90)" font-size="10.4" text-anchor="middle" fill="#1a1a1a"><tspan font-style="italic">j</tspan> (mA/cm<tspan font-size="6.8" dy="-3.7">2</tspan><tspan dy="3.7">)</tspan></text>
<path d="M215.34,217.2 L215.66,217.2 L216.1,217.2 L216.55,217.2 L217,217.2 L217.45,217.2 L217.9,217.2 L218.35,217.2 L218.75,217.14 L219,216.91 L219.11,216.51 L219.18,216.06 L219.25,215.62 L219.31,215.17 L219.37,214.73 L219.41,214.28 L219.44,213.83 L219.48,213.38 L219.51,212.93 L219.54,212.48 L219.57,212.04 L219.6,211.59 L219.63,211.14 L219.66,210.69 L219.69,210.24 L219.72,209.79 L219.75,209.34 L219.77,208.89 L219.8,208.44 L219.83,207.99 L219.86,207.54 L219.88,207.09 L219.91,206.65 L219.93,206.2 L219.96,205.75 L219.98,205.3 L220.01,204.85 L220.04,204.4 L220.06,203.95 L220.08,203.5 L220.11,203.05 L220.13,202.6 L220.16,202.15 L220.18,201.7 L220.21,201.25 L220.23,200.8 L220.25,200.35 L220.28,199.91 L220.3,199.46 L220.33,199.01 L220.35,198.56 L220.37,198.11 L220.4,197.66 L220.42,197.21 L220.44,196.76 L220.47,196.31 L220.49,195.86 L220.51,195.41 L220.54,194.96 L220.56,194.51 L220.58,194.06 L220.6,193.61 L220.63,193.16 L220.65,192.71 L220.67,192.26 L220.69,191.82 L220.72,191.37 L220.74,190.92 L220.76,190.47 L220.78,190.02 L220.81,189.57 L220.83,189.12 L220.85,188.67 L220.87,188.22 L220.89,187.77 L220.92,187.32 L220.94,186.87 L220.96,186.42 L220.98,185.97 L221,185.52 L221.03,185.07 L221.05,184.62 L221.07,184.17 L221.09,183.72 L221.11,183.27 L221.13,182.83 L221.16,182.38 L221.18,181.93 L221.2,181.48 L221.22,181.03 L221.24,180.58 L221.26,180.13 L221.29,179.68 L221.31,179.23 L221.33,178.78 L221.35,178.33 L221.37,177.88 L221.39,177.43 L221.41,176.98 L221.43,176.53 L221.46,176.08 L221.48,175.63 L221.5,175.18 L221.52,174.73 L221.54,174.28 L221.56,173.83 L221.58,173.39 L221.6,172.94 L221.63,172.49 L221.65,172.04 L221.67,171.59 L221.69,171.14 L221.71,170.69 L221.73,170.24 L221.75,169.79 L221.77,169.34 L221.79,168.89 L221.81,168.44 L221.83,167.99 L221.86,167.54 L221.88,167.09 L221.9,166.64 L221.92,166.19 L221.94,165.74 L221.96,165.29 L221.98,164.84 L222,164.39 L222.02,163.94 L222.04,163.5 L222.06,163.05 L222.08,162.6 L222.1,162.15 L222.12,161.7 L222.15,161.25 L222.17,160.8 L222.19,160.35 L222.21,159.9 L222.23,159.45 L222.25,159 L222.27,158.55 L222.29,158.1 L222.31,157.65 L222.33,157.2 L222.35,156.75 L222.37,156.3 L222.39,155.85 L222.41,155.4 L222.43,154.95 L222.45,154.5 L222.47,154.05 L222.49,153.6 L222.51,153.16 L222.53,152.71 L222.55,152.26 L222.57,151.81 L222.59,151.36 L222.62,150.91 L222.64,150.46 L222.66,150.01 L222.68,149.56 L222.7,149.11 L222.72,148.66 L222.74,148.21 L222.76,147.76 L222.78,147.33 L222.8,147.08 L222.82,147.23 L222.84,147.64 L222.86,148.09 L222.88,148.54 L222.9,148.99 L222.92,149.44 L222.94,149.89 L222.96,150.34 L222.98,150.78 L223,151.23 L223.02,151.68 L223.04,152.13 L223.06,152.58 L223.08,153.03 L223.11,153.48 L223.13,153.93 L223.15,154.38 L223.17,154.83 L223.19,155.28 L223.21,155.73 L223.23,156.18 L223.25,156.63 L223.27,157.08 L223.29,157.53 L223.31,157.98 L223.33,158.43 L223.35,158.88 L223.37,159.33 L223.39,159.78 L223.42,160.23 L223.44,160.68 L223.46,161.12 L223.48,161.57 L223.5,162.02 L223.52,162.47 L223.54,162.92 L223.56,163.37 L223.58,163.82 L223.6,164.27 L223.62,164.72 L223.64,165.17 L223.66,165.62 L223.69,166.07 L223.71,166.52 L223.73,166.97 L223.75,167.42 L223.77,167.87 L223.79,168.32 L223.81,168.77 L223.83,169.22 L223.85,169.67 L223.87,170.12 L223.9,170.57 L223.92,171.01 L223.94,171.46 L223.96,171.91 L223.98,172.36 L224,172.81 L224.02,173.26 L224.04,173.71 L224.06,174.16 L224.08,174.61 L224.11,175.06 L224.13,175.51 L224.15,175.96 L224.17,176.41 L224.19,176.86 L224.21,177.31 L224.23,177.76 L224.25,178.21 L224.28,178.66 L224.3,179.11 L224.32,179.56 L224.34,180.01 L224.36,180.45 L224.38,180.9 L224.4,181.35 L224.43,181.8 L224.45,182.25 L224.47,182.7 L224.49,183.15 L224.51,183.6 L224.53,184.05 L224.55,184.5 L224.58,184.95 L224.6,185.4 L224.62,185.85 L224.64,186.3 L224.66,186.75 L224.69,187.2 L224.71,187.65 L224.73,188.1 L224.75,188.55 L224.77,189 L224.79,189.45 L224.82,189.89 L224.84,190.34 L224.86,190.79 L224.88,191.24 L224.9,191.69 L224.93,192.14 L224.95,192.59 L224.97,193.04 L224.99,193.49 L225.02,193.94 L225.04,194.39 L225.06,194.84 L225.08,195.29 L225.11,195.74 L225.13,196.19 L225.15,196.64 L225.17,197.09 L225.2,197.54 L225.22,197.99 L225.24,198.43 L225.26,198.88 L225.29,199.33 L225.31,199.78 L225.33,200.23 L225.36,200.68 L225.38,201.13 L225.4,201.58 L225.43,202.03 L225.45,202.48 L225.47,202.93 L225.5,203.38 L225.52,203.83 L225.54,204.28 L225.57,204.73 L225.59,205.18 L225.62,205.63 L225.64,206.07 L225.67,206.52 L225.69,206.97 L225.71,207.42 L225.74,207.87 L225.76,208.32 L225.79,208.77 L225.82,209.22 L225.84,209.67 L225.87,210.12 L225.89,210.57 L225.92,211.02 L225.95,211.47 L225.97,211.92 L226,212.36 L226.03,212.81 L226.05,213.26 L226.08,213.71 L226.11,214.16 L226.14,214.61 L226.17,215.06 L226.2,215.51 L226.23,215.96 L226.27,216.41 L226.3,216.85 L226.34,217.3 L226.38,217.75 L226.42,218.2 L226.5,218.64 L226.62,219.07 L226.74,219.51 L226.87,219.94 L226.99,220.35 L227.12,220.62 L227.23,220.51 L227.34,220.12 L227.45,219.69 L227.54,219.25 L227.61,218.81 L227.67,218.36 L227.72,217.91 L227.77,217.47 L227.82,217.02 L227.87,216.57 L227.92,216.12 L227.96,215.68 L228,215.23 L228.05,214.78 L228.09,214.33 L228.13,213.88 L228.17,213.44 L228.21,212.99 L228.26,212.54 L228.3,212.09 L228.34,211.64 L228.37,211.19 L228.41,210.75 L228.45,210.3 L228.49,209.85 L228.53,209.4 L228.57,208.95 L228.6,208.5 L228.64,208.06 L228.68,207.61 L228.72,207.16 L228.75,206.71 L228.79,206.26 L228.83,205.81 L228.86,205.36 L228.9,204.92 L228.94,204.47 L228.97,204.02 L229.01,203.57 L229.04,203.12 L229.08,202.67 L229.11,202.22 L229.15,201.78 L229.19,201.33 L229.22,200.88 L229.26,200.43 L229.29,199.98 L229.33,199.53 L229.36,199.08 L229.39,198.63 L229.43,198.19 L229.46,197.74 L229.5,197.29 L229.53,196.84 L229.57,196.39 L229.6,195.94 L229.64,195.49 L229.67,195.04 L229.7,194.6 L229.74,194.15 L229.77,193.7 L229.81,193.25 L229.84,192.8 L229.87,192.35 L229.91,191.9 L229.94,191.45 L229.97,191.01 L230.01,190.56 L230.04,190.11 L230.07,189.66 L230.11,189.21 L230.14,188.76 L230.17,188.31 L230.21,187.86 L230.24,187.42 L230.27,186.97 L230.31,186.52 L230.34,186.07 L230.37,185.62 L230.41,185.17 L230.44,184.72 L230.47,184.27 L230.5,183.83 L230.54,183.38 L230.57,182.93 L230.6,182.48 L230.64,182.03 L230.67,181.58 L230.7,181.13 L230.73,180.68 L230.77,180.23 L230.8,179.79 L230.83,179.34 L230.86,178.89 L230.9,178.44 L230.93,177.99 L230.96,177.54 L230.99,177.09 L231.02,176.64 L231.06,176.19 L231.09,175.75 L231.12,175.3 L231.15,174.85 L231.19,174.4 L231.22,173.95 L231.25,173.5 L231.28,173.05 L231.31,172.6 L231.35,172.15 L231.38,171.71 L231.41,171.26 L231.44,170.81 L231.47,170.41 L231.51,170.29 L231.54,170.56 L231.57,170.99 L231.6,171.44 L231.63,171.89 L231.66,172.34 L231.68,172.78 L231.71,173.23 L231.74,173.68 L231.77,174.13 L231.8,174.58 L231.83,175.03 L231.86,175.48 L231.89,175.93 L231.92,176.38 L231.95,176.83 L231.98,177.27 L232.01,177.72 L232.04,178.17 L232.07,178.62 L232.11,179.07 L232.14,179.52 L232.17,179.97 L232.2,180.42 L232.23,180.87 L232.26,181.32 L232.29,181.76 L232.32,182.21 L232.35,182.66 L232.38,183.11 L232.41,183.56 L232.44,184.01 L232.47,184.46 L232.5,184.91 L232.53,185.36 L232.56,185.81 L232.59,186.25 L232.62,186.7 L232.65,187.15 L232.68,187.6 L232.71,188.05 L232.74,188.5 L232.77,188.95 L232.81,189.4 L232.84,189.85 L232.87,190.3 L232.9,190.74 L232.93,191.19 L232.96,191.64 L232.99,192.09 L233.02,192.54 L233.05,192.99 L233.08,193.44 L233.11,193.89 L233.15,194.34 L233.18,194.79 L233.21,195.23 L233.24,195.68 L233.27,196.13 L233.3,196.58 L233.33,197.03 L233.37,197.48 L233.4,197.93 L233.43,198.38 L233.46,198.83 L233.49,199.27 L233.53,199.72 L233.56,200.17 L233.59,200.62 L233.62,201.07 L233.65,201.52 L233.69,201.97 L233.72,202.42 L233.75,202.87 L233.78,203.31 L233.82,203.76 L233.85,204.21 L233.88,204.66 L233.91,205.11 L233.95,205.56 L233.98,206.01 L234.01,206.46 L234.05,206.9 L234.08,207.35 L234.12,207.8 L234.15,208.25 L234.18,208.7 L234.22,209.15 L234.25,209.6 L234.29,210.05 L234.32,210.49 L234.36,210.94 L234.39,211.39 L234.43,211.84 L234.47,212.29 L234.5,212.74 L234.54,213.19 L234.58,213.63 L234.62,214.08 L234.66,214.53 L234.69,214.98 L234.73,215.43 L234.78,215.88 L234.82,216.32 L234.86,216.77 L234.91,217.22 L234.95,217.67 L235,218.11 L235.06,218.56 L235.12,219 L235.24,219.43 L235.4,219.85 L235.58,220.26 L235.75,220.58 L235.88,220.58 L235.98,220.25 L236.07,219.81 L236.16,219.37 L236.25,218.93 L236.31,218.48 L236.36,218.04 L236.4,217.59 L236.45,217.14 L236.49,216.69 L236.53,216.25 L236.57,215.8 L236.61,215.35 L236.65,214.9 L236.69,214.45 L236.72,214 L236.76,213.55 L236.8,213.11 L236.83,212.66 L236.87,212.21 L236.9,211.76 L236.94,211.31 L236.97,210.86 L237,210.41 L237.04,209.97 L237.07,209.52 L237.1,209.07 L237.14,208.62 L237.17,208.17 L237.2,207.72 L237.23,207.27 L237.27,206.82 L237.3,206.37 L237.33,205.93 L237.36,205.48 L237.39,205.03 L237.42,204.58 L237.45,204.13 L237.49,203.68 L237.52,203.23 L237.55,202.78 L237.58,202.33 L237.61,201.89 L237.64,201.44 L237.67,200.99 L237.7,200.54 L237.73,200.09 L237.76,199.64 L237.79,199.19 L237.82,198.74 L237.85,198.29 L237.88,197.84 L237.91,197.39 L237.94,196.95 L237.97,196.5 L238,196.05 L238.03,195.6 L238.06,195.15 L238.09,194.7 L238.12,194.25 L238.15,193.8 L238.17,193.35 L238.2,192.9 L238.23,192.46 L238.26,192.01 L238.29,191.56 L238.32,191.11 L238.35,190.66 L238.38,190.21 L238.41,189.76 L238.43,189.31 L238.46,188.86 L238.49,188.41 L238.52,187.96 L238.55,187.51 L238.58,187.07 L238.6,186.62 L238.63,186.17 L238.66,185.72 L238.69,185.27 L238.72,184.82 L238.75,184.37 L238.77,183.92 L238.8,183.47 L238.83,183.02 L238.86,182.57 L238.89,182.12 L238.91,181.68 L238.94,181.23 L238.97,180.78 L239,180.33 L239.03,179.88 L239.05,179.43 L239.08,178.98 L239.11,178.53 L239.14,178.08 L239.16,177.63 L239.19,177.18 L239.22,176.73 L239.25,176.29 L239.28,175.84 L239.3,175.39 L239.33,174.94 L239.36,174.49 L239.39,174.04 L239.41,173.59 L239.44,173.14 L239.47,172.69 L239.5,172.24 L239.52,171.79 L239.55,171.34 L239.58,170.9 L239.6,170.45 L239.63,170 L239.66,169.55 L239.69,169.1 L239.71,168.65 L239.74,168.2 L239.77,167.75 L239.8,167.3 L239.82,166.85 L239.85,166.4 L239.88,165.95 L239.9,165.5 L239.93,165.06 L239.96,164.61 L239.98,164.16 L240.01,163.71 L240.04,163.26 L240.07,162.81 L240.09,162.36 L240.12,161.91 L240.15,161.46 L240.17,161.01 L240.2,160.56 L240.23,160.11 L240.25,159.67 L240.28,159.28 L240.31,159.19 L240.33,159.49 L240.36,159.93 L240.38,160.38 L240.41,160.83 L240.43,161.28 L240.45,161.73 L240.48,162.18 L240.5,162.63 L240.53,163.08 L240.55,163.53 L240.58,163.98 L240.6,164.43 L240.63,164.88 L240.65,165.32 L240.68,165.77 L240.7,166.22 L240.72,166.67 L240.75,167.12 L240.77,167.57 L240.8,168.02 L240.82,168.47 L240.85,168.92 L240.87,169.37 L240.9,169.82 L240.92,170.27 L240.95,170.72 L240.97,171.17 L241,171.62 L241.02,172.06 L241.05,172.51 L241.07,172.96 L241.1,173.41 L241.12,173.86 L241.15,174.31 L241.17,174.76 L241.2,175.21 L241.22,175.66 L241.25,176.11 L241.27,176.56 L241.3,177.01 L241.32,177.46 L241.35,177.91 L241.37,178.36 L241.4,178.8 L241.42,179.25 L241.45,179.7 L241.47,180.15 L241.5,180.6 L241.52,181.05 L241.55,181.5 L241.57,181.95 L241.6,182.4 L241.62,182.85 L241.65,183.3 L241.67,183.75 L241.7,184.2 L241.72,184.65 L241.75,185.1 L241.78,185.54 L241.8,185.99 L241.83,186.44 L241.85,186.89 L241.88,187.34 L241.9,187.79 L241.93,188.24 L241.95,188.69 L241.98,189.14 L242.01,189.59 L242.03,190.04 L242.06,190.49 L242.08,190.94 L242.11,191.39 L242.14,191.83 L242.16,192.28 L242.19,192.73 L242.21,193.18 L242.24,193.63 L242.27,194.08 L242.29,194.53 L242.32,194.98 L242.34,195.43 L242.37,195.88 L242.4,196.33 L242.42,196.78 L242.45,197.23 L242.48,197.68 L242.5,198.12 L242.53,198.57 L242.56,199.02 L242.58,199.47 L242.61,199.92 L242.64,200.37 L242.66,200.82 L242.69,201.27 L242.72,201.72 L242.75,202.17 L242.77,202.62 L242.8,203.07 L242.83,203.52 L242.86,203.96 L242.88,204.41 L242.91,204.86 L242.94,205.31 L242.97,205.76 L242.99,206.21 L243.02,206.66 L243.05,207.11 L243.08,207.56 L243.11,208.01 L243.14,208.46 L243.17,208.9 L243.2,209.35 L243.23,209.8 L243.26,210.25 L243.29,210.7 L243.32,211.15 L243.35,211.6 L243.38,212.05 L243.41,212.5 L243.44,212.95 L243.47,213.39 L243.51,213.84 L243.54,214.29 L243.57,214.74 L243.61,215.19 L243.64,215.64 L243.68,216.09 L243.71,216.54 L243.75,216.98 L243.8,217.43 L243.84,217.88 L243.88,218.33 L243.95,218.77 L244.06,219.2 L244.21,219.63 L244.35,220.05 L244.5,220.45 L244.64,220.64 L244.75,220.43 L244.85,220.02 L244.95,219.58 L245.03,219.14 L245.09,218.69 L245.14,218.25 L245.19,217.8 L245.24,217.35 L245.28,216.9 L245.33,216.46 L245.37,216.01 L245.41,215.56 L245.45,215.11 L245.49,214.66 L245.53,214.21 L245.57,213.77 L245.61,213.32 L245.65,212.87 L245.69,212.42 L245.72,211.97 L245.76,211.52 L245.8,211.08 L245.83,210.63 L245.87,210.18 L245.9,209.73 L245.94,209.28 L245.98,208.83 L246.01,208.38 L246.05,207.93 L246.08,207.49 L246.12,207.04 L246.15,206.59 L246.18,206.14 L246.22,205.69 L246.25,205.24 L246.29,204.79 L246.32,204.34 L246.35,203.9 L246.39,203.45 L246.42,203 L246.45,202.55 L246.49,202.1 L246.52,201.65 L246.55,201.2 L246.59,200.75 L246.62,200.31 L246.65,199.86 L246.68,199.41 L246.72,198.96 L246.75,198.51 L246.78,198.06 L246.81,197.61 L246.84,197.16 L246.88,196.71 L246.91,196.27 L246.94,195.82 L246.97,195.37 L247,194.92 L247.04,194.47 L247.07,194.02 L247.1,193.57 L247.13,193.12 L247.16,192.67 L247.19,192.23 L247.23,191.78 L247.26,191.33 L247.29,190.88 L247.32,190.43 L247.35,189.98 L247.38,189.53 L247.41,189.08 L247.44,188.63 L247.48,188.19 L247.51,187.74 L247.54,187.29 L247.57,186.84 L247.6,186.39 L247.63,185.94 L247.66,185.49 L247.69,185.04 L247.72,184.59 L247.75,184.14 L247.78,183.7 L247.82,183.25 L247.85,182.8 L247.88,182.35 L247.91,181.9 L247.94,181.45 L247.97,181 L248,180.55 L248.03,180.1 L248.06,179.65 L248.09,179.21 L248.12,178.76 L248.15,178.31 L248.18,177.86 L248.21,177.41 L248.24,176.96 L248.27,176.51 L248.3,176.06 L248.33,175.61 L248.36,175.16 L248.39,174.72 L248.42,174.27 L248.45,173.82 L248.48,173.37 L248.51,172.92 L248.54,172.47 L248.57,172.06 L248.6,171.88 L248.63,172.1 L248.66,172.53 L248.69,172.97 L248.73,173.42 L248.76,173.87 L248.79,174.32 L248.82,174.77 L248.85,175.22 L248.88,175.67 L248.91,176.12 L248.94,176.57 L248.97,177.02 L249,177.46 L249.03,177.91 L249.07,178.36 L249.1,178.81 L249.13,179.26 L249.16,179.71 L249.19,180.16 L249.22,180.61 L249.25,181.06 L249.28,181.51 L249.31,181.95 L249.35,182.4 L249.38,182.85 L249.41,183.3 L249.44,183.75 L249.47,184.2 L249.5,184.65 L249.53,185.1 L249.56,185.55 L249.6,185.99 L249.63,186.44 L249.66,186.89 L249.69,187.34 L249.72,187.79 L249.75,188.24 L249.79,188.69 L249.82,189.14 L249.85,189.59 L249.88,190.03 L249.91,190.48 L249.94,190.93 L249.98,191.38 L250.01,191.83 L250.04,192.28 L250.07,192.73 L250.1,193.18 L250.14,193.63 L250.17,194.07 L250.2,194.52 L250.23,194.97 L250.26,195.42 L250.3,195.87 L250.33,196.32 L250.36,196.77 L250.39,197.22 L250.43,197.67 L250.46,198.11 L250.49,198.56 L250.52,199.01 L250.56,199.46 L250.59,199.91 L250.62,200.36 L250.66,200.81 L250.69,201.26 L250.72,201.71 L250.76,202.15 L250.79,202.6 L250.82,203.05 L250.86,203.5 L250.89,203.95 L250.92,204.4 L250.96,204.85 L250.99,205.3 L251.03,205.74 L251.06,206.19 L251.09,206.64 L251.13,207.09 L251.16,207.54 L251.2,207.99 L251.23,208.44 L251.27,208.88 L251.3,209.33 L251.34,209.78 L251.38,210.23 L251.41,210.68 L251.45,211.13 L251.49,211.58 L251.52,212.02 L251.56,212.47 L251.6,212.92 L251.64,213.37 L251.67,213.82 L251.71,214.27 L251.75,214.72 L251.79,215.16 L251.84,215.61 L251.88,216.06 L251.92,216.51 L251.97,216.96 L252.01,217.4 L252.06,217.85 L252.11,218.3 L252.17,218.74 L252.25,219.18 L252.39,219.61 L252.56,220.02 L252.74,220.41 L252.91,220.64 L253.04,220.48 L253.14,220.08 L253.25,219.65 L253.33,219.2 L253.4,218.76 L253.45,218.31 L253.5,217.87 L253.55,217.42 L253.6,216.97 L253.64,216.52 L253.69,216.07 L253.73,215.63 L253.77,215.18 L253.81,214.73 L253.85,214.28 L253.89,213.83 L253.93,213.39 L253.97,212.94 L254.01,212.49 L254.05,212.04 L254.09,211.59 L254.13,211.14 L254.16,210.7 L254.2,210.25 L254.24,209.8 L254.28,209.35 L254.31,208.9 L254.35,208.45 L254.38,208 L254.42,207.56 L254.46,207.11 L254.49,206.66 L254.53,206.21 L254.56,205.76 L254.6,205.31 L254.63,204.86 L254.67,204.42 L254.7,203.97 L254.74,203.52 L254.77,203.07 L254.8,202.62 L254.84,202.17 L254.87,201.72 L254.91,201.27 L254.94,200.83 L254.97,200.38 L255.01,199.93 L255.04,199.48 L255.08,199.03 L255.11,198.58 L255.14,198.13 L255.18,197.68 L255.21,197.24 L255.24,196.79 L255.28,196.34 L255.31,195.89 L255.34,195.44 L255.37,194.99 L255.41,194.54 L255.44,194.09 L255.47,193.64 L255.51,193.2 L255.54,192.75 L255.57,192.3 L255.6,191.85 L255.64,191.4 L255.67,190.95 L255.7,190.5 L255.73,190.05 L255.76,189.61 L255.8,189.16 L255.83,188.71 L255.86,188.26 L255.89,187.81 L255.93,187.36 L255.96,186.91 L255.99,186.46 L256.02,186.01 L256.05,185.57 L256.08,185.12 L256.12,184.67 L256.15,184.22 L256.18,183.77 L256.21,183.32 L256.24,182.87 L256.27,182.42 L256.31,181.97 L256.34,181.52 L256.37,181.08 L256.4,180.63 L256.43,180.18 L256.46,179.73 L256.5,179.28 L256.53,178.83 L256.56,178.38 L256.59,177.93 L256.62,177.48 L256.65,177.04 L256.68,176.59 L256.71,176.14 L256.74,175.69 L256.78,175.24 L256.81,174.79 L256.84,174.34 L256.87,173.89 L256.9,173.44 L256.93,172.99 L256.96,172.56 L256.99,172.29 L257.02,172.41 L257.06,172.8 L257.09,173.25 L257.12,173.7 L257.15,174.15 L257.18,174.6 L257.21,175.05 L257.24,175.49 L257.27,175.94 L257.3,176.39 L257.34,176.84 L257.37,177.29 L257.4,177.74 L257.43,178.19 L257.46,178.64 L257.49,179.09 L257.52,179.54 L257.55,179.98 L257.59,180.43 L257.62,180.88 L257.65,181.33 L257.68,181.78 L257.71,182.23 L257.74,182.68 L257.77,183.13 L257.81,183.58 L257.84,184.02 L257.87,184.47 L257.9,184.92 L257.93,185.37 L257.96,185.82 L258,186.27 L258.03,186.72 L258.06,187.17 L258.09,187.62 L258.12,188.06 L258.15,188.51 L258.19,188.96 L258.22,189.41 L258.25,189.86 L258.28,190.31 L258.31,190.76 L258.35,191.21 L258.38,191.66 L258.41,192.1 L258.44,192.55 L258.47,193 L258.51,193.45 L258.54,193.9 L258.57,194.35 L258.6,194.8 L258.64,195.25 L258.67,195.7 L258.7,196.14 L258.73,196.59 L258.77,197.04 L258.8,197.49 L258.83,197.94 L258.87,198.39 L258.9,198.84 L258.93,199.29 L258.96,199.74 L259,200.18 L259.03,200.63 L259.06,201.08 L259.1,201.53 L259.13,201.98 L259.16,202.43 L259.2,202.88 L259.23,203.33 L259.27,203.77 L259.3,204.22 L259.33,204.67 L259.37,205.12 L259.4,205.57 L259.44,206.02 L259.47,206.47 L259.51,206.92 L259.54,207.36 L259.58,207.81 L259.61,208.26 L259.65,208.71 L259.68,209.16 L259.72,209.61 L259.75,210.06 L259.79,210.5 L259.83,210.95 L259.86,211.4 L259.9,211.85 L259.94,212.3 L259.98,212.75 L260.02,213.2 L260.05,213.64 L260.09,214.09 L260.13,214.54 L260.17,214.99 L260.22,215.44 L260.26,215.88 L260.3,216.33 L260.35,216.78 L260.39,217.23 L260.44,217.68 L260.49,218.12 L260.54,218.57 L260.61,219.01 L260.72,219.44 L260.89,219.86 L261.07,220.27 L261.24,220.59 L261.39,220.59 L261.5,220.25 L261.6,219.82 L261.7,219.38 L261.78,218.94 L261.84,218.49 L261.89,218.04 L261.94,217.6 L261.99,217.15 L262.04,216.7 L262.08,216.25 L262.13,215.81 L262.17,215.36 L262.21,214.91 L262.25,214.46 L262.3,214.01 L262.34,213.57 L262.38,213.12 L262.41,212.67 L262.45,212.22 L262.49,211.77 L262.53,211.32 L262.57,210.88 L262.6,210.43 L262.64,209.98 L262.68,209.53 L262.72,209.08 L262.75,208.63 L262.79,208.18 L262.82,207.74 L262.86,207.29 L262.89,206.84 L262.93,206.39 L262.97,205.94 L263,205.49 L263.04,205.04 L263.07,204.59 L263.1,204.15 L263.14,203.7 L263.17,203.25 L263.21,202.8 L263.24,202.35 L263.28,201.9 L263.31,201.45 L263.34,201.01 L263.38,200.56 L263.41,200.11 L263.44,199.66 L263.48,199.21 L263.51,198.76 L263.54,198.31 L263.58,197.86 L263.61,197.41 L263.64,196.97 L263.68,196.52 L263.71,196.07 L263.74,195.62 L263.78,195.17 L263.81,194.72 L263.84,194.27 L263.87,193.82 L263.91,193.38 L263.94,192.93 L263.97,192.48 L264,192.03 L264.03,191.58 L264.07,191.13 L264.1,190.68 L264.13,190.23 L264.16,189.78 L264.19,189.34 L264.23,188.89 L264.26,188.44 L264.29,187.99 L264.32,187.54 L264.35,187.09 L264.39,186.64 L264.42,186.19 L264.45,185.74 L264.48,185.3 L264.51,184.85 L264.54,184.4 L264.57,183.95 L264.61,183.5 L264.64,183.05 L264.67,182.6 L264.7,182.15 L264.73,181.7 L264.76,181.25 L264.79,180.81 L264.82,180.36 L264.86,179.91 L264.89,179.46 L264.92,179.01 L264.95,178.56 L264.98,178.11 L265.01,177.66 L265.04,177.21 L265.07,176.77 L265.1,176.32 L265.13,175.87 L265.17,175.42 L265.2,174.97 L265.23,174.52 L265.26,174.07 L265.29,173.62 L265.32,173.17 L265.35,172.72 L265.38,172.28 L265.41,171.83 L265.44,171.38 L265.47,170.93 L265.5,170.48 L265.53,170.03 L265.56,169.58 L265.59,169.13 L265.63,168.68 L265.66,168.23 L265.69,167.79 L265.72,167.34 L265.75,166.89 L265.78,166.5 L265.81,166.39 L265.83,166.67 L265.86,167.11 L265.89,167.56 L265.92,168.01 L265.95,168.46 L265.97,168.91 L266,169.36 L266.03,169.8 L266.06,170.25 L266.08,170.7 L266.11,171.15 L266.14,171.6 L266.17,172.05 L266.2,172.5 L266.22,172.95 L266.25,173.4 L266.28,173.85 L266.31,174.3 L266.34,174.75 L266.36,175.19 L266.39,175.64 L266.42,176.09 L266.45,176.54 L266.48,176.99 L266.5,177.44 L266.53,177.89 L266.56,178.34 L266.59,178.79 L266.62,179.24 L266.64,179.69 L266.67,180.13 L266.7,180.58 L266.73,181.03 L266.76,181.48 L266.79,181.93 L266.81,182.38 L266.84,182.83 L266.87,183.28 L266.9,183.73 L266.93,184.18 L266.96,184.63 L266.98,185.08 L267.01,185.52 L267.04,185.97 L267.07,186.42 L267.1,186.87 L267.13,187.32 L267.16,187.77 L267.18,188.22 L267.21,188.67 L267.24,189.12 L267.27,189.57 L267.3,190.02 L267.33,190.46 L267.36,190.91 L267.39,191.36 L267.41,191.81 L267.44,192.26 L267.47,192.71 L267.5,193.16 L267.53,193.61 L267.56,194.06 L267.59,194.51 L267.62,194.96 L267.65,195.4 L267.68,195.85 L267.71,196.3 L267.74,196.75 L267.77,197.2 L267.8,197.65 L267.82,198.1 L267.85,198.55 L267.88,199 L267.91,199.45 L267.94,199.9 L267.97,200.34 L268,200.79 L268.03,201.24 L268.06,201.69 L268.1,202.14 L268.13,202.59 L268.16,203.04 L268.19,203.49 L268.22,203.94 L268.25,204.39 L268.28,204.83 L268.31,205.28 L268.34,205.73 L268.37,206.18 L268.4,206.63 L268.44,207.08 L268.47,207.53 L268.5,207.98 L268.53,208.43 L268.56,208.87 L268.6,209.32 L268.63,209.77 L268.66,210.22 L268.7,210.67 L268.73,211.12 L268.76,211.57 L268.8,212.02 L268.83,212.46 L268.87,212.91 L268.9,213.36 L268.94,213.81 L268.97,214.26 L269.01,214.71 L269.05,215.16 L269.09,215.6 L269.13,216.05 L269.17,216.5 L269.21,216.95 L269.25,217.4 L269.3,217.84 L269.35,218.29 L269.4,218.74 L269.49,219.17 L269.64,219.6 L269.8,220.02 L269.96,220.42 L270.11,220.63 L270.23,220.47 L270.33,220.07 L270.43,219.63 L270.51,219.19 L270.56,218.74 L270.61,218.29 L270.66,217.85 L270.7,217.4 L270.75,216.95 L270.79,216.5 L270.83,216.05 L270.87,215.61 L270.91,215.16 L270.95,214.71 L270.98,214.26 L271.02,213.81 L271.06,213.36 L271.09,212.91 L271.13,212.47 L271.16,212.02 L271.2,211.57 L271.24,211.12 L271.27,210.67 L271.3,210.22 L271.34,209.77 L271.37,209.33 L271.41,208.88 L271.44,208.43 L271.47,207.98 L271.51,207.53 L271.54,207.08 L271.57,206.63 L271.6,206.18 L271.64,205.73 L271.67,205.29 L271.7,204.84 L271.73,204.39 L271.76,203.94 L271.8,203.49 L271.83,203.04 L271.86,202.59 L271.89,202.14 L271.92,201.69 L271.95,201.25 L271.98,200.8 L272.02,200.35 L272.05,199.9 L272.08,199.45 L272.11,199 L272.14,198.55 L272.17,198.1 L272.2,197.65 L272.23,197.2 L272.26,196.76 L272.29,196.31 L272.32,195.86 L272.35,195.41 L272.38,194.96 L272.41,194.51 L272.44,194.06 L272.47,193.61 L272.5,193.16 L272.53,192.71 L272.56,192.27 L272.59,191.82 L272.62,191.37 L272.65,190.92 L272.68,190.47 L272.71,190.02 L272.74,189.57 L272.77,189.12 L272.8,188.67 L272.83,188.22 L272.86,187.77 L272.89,187.33 L272.92,186.88 L272.95,186.43 L272.98,185.98 L273.01,185.53 L273.04,185.08 L273.06,184.63 L273.09,184.18 L273.12,183.73 L273.15,183.28 L273.18,182.84 L273.21,182.39 L273.24,181.94 L273.27,181.49 L273.3,181.04 L273.33,180.59 L273.36,180.14 L273.38,179.69 L273.41,179.24 L273.44,178.79 L273.47,178.34 L273.5,177.89 L273.53,177.45 L273.56,177 L273.59,176.55 L273.61,176.1 L273.64,175.65 L273.67,175.2 L273.7,174.75 L273.73,174.3 L273.76,173.85 L273.79,173.4 L273.81,172.95 L273.84,172.51 L273.87,172.08 L273.9,171.87 L273.93,172.07 L273.96,172.49 L273.99,172.94 L274.02,173.39 L274.05,173.84 L274.08,174.29 L274.12,174.74 L274.15,175.18 L274.18,175.63 L274.21,176.08 L274.24,176.53 L274.27,176.98 L274.3,177.43 L274.33,177.88 L274.36,178.33 L274.39,178.78 L274.42,179.23 L274.46,179.67 L274.49,180.12 L274.52,180.57 L274.55,181.02 L274.58,181.47 L274.61,181.92 L274.64,182.37 L274.67,182.82 L274.71,183.27 L274.74,183.71 L274.77,184.16 L274.8,184.61 L274.83,185.06 L274.86,185.51 L274.89,185.96 L274.92,186.41 L274.96,186.86 L274.99,187.31 L275.02,187.76 L275.05,188.2 L275.08,188.65 L275.11,189.1 L275.15,189.55 L275.18,190 L275.21,190.45 L275.24,190.9 L275.27,191.35 L275.3,191.8 L275.34,192.24 L275.37,192.69 L275.4,193.14 L275.43,193.59 L275.46,194.04 L275.5,194.49 L275.53,194.94 L275.56,195.39 L275.59,195.84 L275.63,196.28 L275.66,196.73 L275.69,197.18 L275.72,197.63 L275.76,198.08 L275.79,198.53 L275.82,198.98 L275.85,199.43 L275.89,199.87 L275.92,200.32 L275.95,200.77 L275.99,201.22 L276.02,201.67 L276.05,202.12 L276.09,202.57 L276.12,203.02 L276.15,203.47 L276.19,203.91 L276.22,204.36 L276.25,204.81 L276.29,205.26 L276.32,205.71 L276.36,206.16 L276.39,206.61 L276.43,207.06 L276.46,207.5 L276.5,207.95 L276.53,208.4 L276.57,208.85 L276.6,209.3 L276.64,209.75 L276.67,210.2 L276.71,210.64 L276.75,211.09 L276.78,211.54 L276.82,211.99 L276.86,212.44 L276.89,212.89 L276.93,213.34 L276.97,213.78 L277.01,214.23 L277.05,214.68 L277.09,215.13 L277.13,215.58 L277.17,216.02 L277.22,216.47 L277.26,216.92 L277.31,217.37 L277.36,217.82 L277.41,218.26 L277.47,218.71 L277.54,219.15 L277.68,219.57 L277.85,219.99 L278.03,220.39 L278.2,220.63 L278.34,220.51 L278.47,220.12 L278.58,219.69 L278.67,219.25 L278.74,218.81 L278.8,218.36 L278.86,217.91 L278.91,217.47 L278.96,217.02 L279.01,216.57 L279.06,216.13 L279.11,215.68 L279.16,215.23 L279.21,214.78 L279.26,214.34 L279.3,213.89 L279.35,213.44 L279.39,212.99 L279.44,212.55 L279.48,212.1 L279.53,211.65 L279.57,211.2 L279.61,210.75 L279.66,210.31 L279.7,209.86 L279.74,209.41 L279.78,208.96 L279.82,208.51 L279.87,208.07 L279.91,207.62 L279.95,207.17 L279.99,206.72 L280.03,206.27 L280.07,205.82 L280.11,205.38 L280.15,204.93 L280.19,204.48 L280.23,204.03 L280.27,203.58 L280.31,203.14 L280.35,202.69 L280.39,202.24 L280.43,201.79 L280.47,201.34 L280.51,200.89 L280.55,200.45 L280.59,200 L280.63,199.55 L280.67,199.1 L280.71,198.65 L280.74,198.2 L280.78,197.76 L280.82,197.31 L280.86,196.86 L280.9,196.41 L280.94,195.96 L280.98,195.51 L281.01,195.07 L281.05,194.62 L281.09,194.17 L281.13,193.72 L281.17,193.27 L281.2,192.82 L281.24,192.37 L281.28,191.93 L281.32,191.48 L281.36,191.03 L281.39,190.58 L281.43,190.13 L281.47,189.68 L281.51,189.24 L281.54,188.79 L281.58,188.34 L281.62,187.89 L281.65,187.44 L281.69,186.99 L281.73,186.54 L281.77,186.1 L281.8,185.65 L281.84,185.2 L281.88,184.75 L281.91,184.3 L281.95,183.85 L281.99,183.41 L282.03,182.96 L282.06,182.51 L282.1,182.06 L282.14,181.61 L282.17,181.16 L282.21,180.71 L282.25,180.27 L282.28,179.93 L282.32,179.94 L282.36,180.29 L282.39,180.73 L282.43,181.18 L282.47,181.63 L282.5,182.07 L282.54,182.52 L282.58,182.97 L282.61,183.42 L282.65,183.87 L282.69,184.32 L282.72,184.77 L282.76,185.21 L282.8,185.66 L282.83,186.11 L282.87,186.56 L282.91,187.01 L282.95,187.46 L282.98,187.91 L283.02,188.35 L283.06,188.8 L283.1,189.25 L283.13,189.7 L283.17,190.15 L283.21,190.6 L283.24,191.04 L283.28,191.49 L283.32,191.94 L283.36,192.39 L283.39,192.84 L283.43,193.29 L283.47,193.74 L283.51,194.18 L283.55,194.63 L283.58,195.08 L283.62,195.53 L283.66,195.98 L283.7,196.43 L283.74,196.87 L283.77,197.32 L283.81,197.77 L283.85,198.22 L283.89,198.67 L283.93,199.12 L283.96,199.56 L284,200.01 L284.04,200.46 L284.08,200.91 L284.12,201.36 L284.16,201.81 L284.2,202.25 L284.24,202.7 L284.28,203.15 L284.31,203.6 L284.35,204.05 L284.39,204.5 L284.43,204.94 L284.47,205.39 L284.51,205.84 L284.55,206.29 L284.59,206.74 L284.63,207.19 L284.67,207.63 L284.71,208.08 L284.76,208.53 L284.8,208.98 L284.84,209.43 L284.88,209.87 L284.92,210.32 L284.96,210.77 L285,211.22 L285.05,211.67 L285.09,212.12 L285.13,212.56 L285.18,213.01 L285.22,213.46 L285.27,213.91 L285.31,214.35 L285.36,214.8 L285.4,215.25 L285.45,215.7 L285.5,216.14 L285.55,216.59 L285.6,217.04 L285.65,217.49 L285.71,217.93 L285.77,218.38 L285.83,218.82 L285.91,219.27 L286.04,219.69 L286.23,220.09 L286.43,220.47 L286.62,220.65 L286.76,220.45 L286.88,220.04 L286.99,219.61 L287.08,219.16 L287.14,218.72 L287.2,218.27 L287.25,217.83 L287.31,217.38 L287.36,216.93 L287.41,216.48 L287.46,216.04 L287.5,215.59 L287.55,215.14 L287.6,214.69 L287.64,214.25 L287.69,213.8 L287.73,213.35 L287.78,212.9 L287.82,212.46 L287.86,212.01 L287.9,211.56 L287.95,211.11 L287.99,210.66 L288.03,210.22 L288.07,209.77 L288.11,209.32 L288.15,208.87 L288.2,208.42 L288.24,207.97 L288.28,207.53 L288.32,207.08 L288.36,206.63 L288.4,206.18 L288.44,205.73 L288.47,205.28 L288.51,204.84 L288.55,204.39 L288.59,203.94 L288.63,203.49 L288.67,203.04 L288.71,202.59 L288.75,202.15 L288.78,201.7 L288.82,201.25 L288.86,200.8 L288.9,200.35 L288.94,199.9 L288.98,199.46 L289.01,199.01 L289.05,198.56 L289.09,198.11 L289.13,197.66 L289.16,197.21 L289.2,196.77 L289.24,196.32 L289.28,195.87 L289.31,195.42 L289.35,194.97 L289.39,194.52 L289.42,194.07 L289.46,193.63 L289.5,193.18 L289.53,192.73 L289.57,192.28 L289.61,191.83 L289.64,191.38 L289.68,190.93 L289.72,190.49 L289.75,190.04 L289.79,189.59 L289.83,189.14 L289.86,188.69 L289.9,188.24 L289.93,187.79 L289.97,187.35 L290.01,186.9 L290.04,186.45 L290.08,186 L290.12,185.55 L290.15,185.1 L290.19,184.65 L290.22,184.21 L290.26,183.76 L290.29,183.31 L290.33,182.86 L290.37,182.41 L290.4,181.96 L290.44,181.51 L290.47,181.07 L290.51,180.62 L290.54,180.17 L290.58,179.72 L290.62,179.27 L290.65,178.83 L290.69,178.51 L290.72,178.56 L290.76,178.93 L290.79,179.37 L290.83,179.82 L290.86,180.27 L290.9,180.72 L290.94,181.17 L290.97,181.62 L291.01,182.06 L291.04,182.51 L291.08,182.96 L291.11,183.41 L291.15,183.86 L291.18,184.31 L291.22,184.76 L291.26,185.2 L291.29,185.65 L291.33,186.1 L291.36,186.55 L291.4,187 L291.44,187.45 L291.47,187.9 L291.51,188.34 L291.54,188.79 L291.58,189.24 L291.62,189.69 L291.65,190.14 L291.69,190.59 L291.73,191.04 L291.76,191.48 L291.8,191.93 L291.83,192.38 L291.87,192.83 L291.91,193.28 L291.94,193.73 L291.98,194.18 L292.02,194.62 L292.05,195.07 L292.09,195.52 L292.13,195.97 L292.16,196.42 L292.2,196.87 L292.24,197.32 L292.28,197.76 L292.31,198.21 L292.35,198.66 L292.39,199.11 L292.42,199.56 L292.46,200.01 L292.5,200.45 L292.54,200.9 L292.57,201.35 L292.61,201.8 L292.65,202.25 L292.69,202.7 L292.73,203.15 L292.76,203.59 L292.8,204.04 L292.84,204.49 L292.88,204.94 L292.92,205.39 L292.96,205.84 L293,206.28 L293.03,206.73 L293.07,207.18 L293.11,207.63 L293.15,208.08 L293.19,208.53 L293.23,208.97 L293.27,209.42 L293.31,209.87 L293.35,210.32 L293.39,210.77 L293.43,211.21 L293.48,211.66 L293.52,212.11 L293.56,212.56 L293.6,213.01 L293.65,213.46 L293.69,213.9 L293.73,214.35 L293.78,214.8 L293.82,215.25 L293.87,215.69 L293.92,216.14 L293.97,216.59 L294.02,217.04 L294.07,217.48 L294.12,217.93 L294.18,218.38 L294.24,218.82 L294.32,219.26 L294.45,219.69 L294.64,220.09 L294.84,220.47 L295.03,220.65 L295.18,220.45 L295.31,220.04 L295.42,219.61 L295.5,219.17 L295.57,218.72 L295.63,218.28 L295.69,217.83 L295.75,217.38 L295.8,216.94 L295.86,216.49 L295.91,216.04 L295.96,215.6 L296.01,215.15 L296.06,214.7 L296.11,214.26 L296.16,213.81 L296.21,213.36 L296.26,212.91 L296.3,212.47 L296.35,212.02 L296.4,211.57 L296.45,211.12 L296.49,210.68 L296.54,210.23 L296.58,209.78 L296.63,209.33 L296.67,208.88 L296.72,208.44 L296.76,207.99 L296.81,207.54 L296.85,207.09 L296.9,206.65 L296.94,206.2 L296.98,205.75 L297.03,205.3 L297.07,204.85 L297.11,204.41 L297.16,203.96 L297.2,203.51 L297.24,203.06 L297.28,202.61 L297.33,202.17 L297.37,201.72 L297.41,201.27 L297.45,200.82 L297.5,200.37 L297.54,199.93 L297.58,199.48 L297.62,199.03 L297.66,198.58 L297.71,198.13 L297.75,197.69 L297.79,197.24 L297.83,196.79 L297.87,196.34 L297.91,195.89 L297.95,195.44 L298,195 L298.04,194.55 L298.08,194.1 L298.12,193.65 L298.16,193.2 L298.2,192.76 L298.24,192.31 L298.28,191.86 L298.32,191.41 L298.36,190.96 L298.4,190.51 L298.45,190.07 L298.49,189.62 L298.53,189.17 L298.57,188.72 L298.61,188.27 L298.65,187.83 L298.69,187.38 L298.73,186.93 L298.77,186.48 L298.81,186.03 L298.85,185.59 L298.89,185.29 L298.93,185.38 L298.97,185.76 L299.01,186.21 L299.06,186.66 L299.1,187.1 L299.14,187.55 L299.18,188 L299.23,188.45 L299.27,188.9 L299.31,189.34 L299.35,189.79 L299.4,190.24 L299.44,190.69 L299.48,191.14 L299.52,191.58 L299.57,192.03 L299.61,192.48 L299.65,192.93 L299.69,193.38 L299.74,193.82 L299.78,194.27 L299.82,194.72 L299.87,195.17 L299.91,195.62 L299.95,196.06 L300,196.51 L300.04,196.96 L300.08,197.41 L300.13,197.86 L300.17,198.3 L300.21,198.75 L300.26,199.2 L300.3,199.65 L300.34,200.1 L300.39,200.54 L300.43,200.99 L300.47,201.44 L300.52,201.89 L300.56,202.34 L300.61,202.78 L300.65,203.23 L300.7,203.68 L300.74,204.13 L300.79,204.57 L300.83,205.02 L300.88,205.47 L300.92,205.92 L300.97,206.37 L301.01,206.81 L301.06,207.26 L301.1,207.71 L301.15,208.16 L301.19,208.6 L301.24,209.05 L301.29,209.5 L301.33,209.95 L301.38,210.39 L301.43,210.84 L301.48,211.29 L301.52,211.74 L301.57,212.18 L301.62,212.63 L301.67,213.08 L301.72,213.53 L301.77,213.97 L301.82,214.42 L301.87,214.87 L301.92,215.31 L301.98,215.76 L302.03,216.21 L302.09,216.65 L302.14,217.1 L302.2,217.55 L302.26,217.99 L302.33,218.44 L302.4,218.88 L302.48,219.32 L302.6,219.75 L302.8,220.15 L303.03,220.5 L303.23,220.65 L303.4,220.43 L303.54,220.03 L303.66,219.59 L303.74,219.15 L303.82,218.71 L303.88,218.26 L303.95,217.82 L304.01,217.37 L304.07,216.93 L304.13,216.48 L304.19,216.03 L304.25,215.59 L304.3,215.14 L304.36,214.69 L304.41,214.25 L304.46,213.8 L304.52,213.35 L304.57,212.91 L304.62,212.46 L304.67,212.01 L304.73,211.56 L304.78,211.12 L304.83,210.67 L304.88,210.22 L304.93,209.78 L304.98,209.33 L305.03,208.88 L305.08,208.43 L305.12,207.99 L305.17,207.54 L305.22,207.09 L305.27,206.64 L305.32,206.2 L305.37,205.75 L305.41,205.3 L305.46,204.85 L305.51,204.41 L305.56,203.96 L305.6,203.51 L305.65,203.06 L305.7,202.62 L305.74,202.17 L305.79,201.72 L305.84,201.27 L305.88,200.83 L305.93,200.38 L305.97,199.93 L306.02,199.48 L306.07,199.04 L306.11,198.59 L306.16,198.14 L306.2,197.69 L306.25,197.24 L306.29,196.8 L306.34,196.35 L306.39,195.9 L306.43,195.45 L306.48,195.01 L306.52,194.56 L306.57,194.11 L306.61,193.66 L306.66,193.21 L306.7,192.77 L306.75,192.32 L306.79,191.87 L306.83,191.42 L306.88,190.98 L306.92,190.53 L306.97,190.08 L307.01,189.63 L307.06,189.18 L307.1,188.74 L307.15,188.29 L307.19,187.84 L307.23,187.39 L307.28,186.94 L307.32,186.5 L307.37,186.1 L307.41,185.99 L307.45,186.26 L307.49,186.7 L307.53,187.14 L307.56,187.59 L307.6,188.04 L307.64,188.49 L307.68,188.94 L307.72,189.39 L307.76,189.83 L307.8,190.28 L307.84,190.73 L307.88,191.18 L307.92,191.63 L307.96,192.08 L308,192.52 L308.04,192.97 L308.08,193.42 L308.12,193.87 L308.16,194.32 L308.2,194.76 L308.24,195.21 L308.28,195.66 L308.32,196.11 L308.36,196.56 L308.4,197.01 L308.44,197.45 L308.48,197.9 L308.52,198.35 L308.56,198.8 L308.6,199.25 L308.64,199.7 L308.68,200.14 L308.72,200.59 L308.76,201.04 L308.8,201.49 L308.84,201.94 L308.88,202.38 L308.92,202.83 L308.96,203.28 L309.01,203.73 L309.05,204.18 L309.09,204.63 L309.13,205.07 L309.17,205.52 L309.21,205.97 L309.26,206.42 L309.3,206.87 L309.34,207.31 L309.38,207.76 L309.43,208.21 L309.47,208.66 L309.51,209.11 L309.56,209.55 L309.6,210 L309.64,210.45 L309.69,210.9 L309.73,211.34 L309.78,211.79 L309.82,212.24 L309.87,212.69 L309.91,213.14 L309.96,213.58 L310.01,214.03 L310.06,214.48 L310.11,214.93 L310.16,215.37 L310.21,215.82 L310.26,216.27 L310.32,216.71 L310.38,217.16 L310.44,217.61 L310.51,218.05 L310.62,218.48 L310.81,218.88 L311.03,219.26 L311.33,219.53 L311.73,219.65 L312.18,219.7 L312.62,219.75 L313.07,219.8 L313.52,219.85 L313.97,219.9 L314.41,219.94 L314.86,219.99 L315.31,220.04 L315.76,220.09 L316.2,220.14 L316.58,220.18 L316.67,220.19" fill="none" stroke="#3ef03e" stroke-width="1.5" stroke-linejoin="round"/>
<path d="M215.34,220.4 L215.66,220.4 L216.1,220.4 L216.55,220.4 L217,220.4 L217.45,220.4 L217.9,220.4 L218.35,220.4 L218.75,220.34 L219,220.11 L219.12,219.71 L219.19,219.27 L219.27,218.82 L219.34,218.38 L219.39,217.93 L219.43,217.48 L219.47,217.03 L219.5,216.59 L219.54,216.14 L219.57,215.69 L219.61,215.24 L219.64,214.79 L219.67,214.34 L219.7,213.89 L219.73,213.44 L219.76,212.99 L219.79,212.55 L219.82,212.1 L219.85,211.65 L219.88,211.2 L219.91,210.75 L219.94,210.3 L219.96,209.85 L219.99,209.4 L220.02,208.95 L220.05,208.5 L220.07,208.05 L220.1,207.61 L220.13,207.16 L220.15,206.71 L220.18,206.26 L220.21,205.81 L220.23,205.36 L220.26,204.91 L220.29,204.46 L220.31,204.01 L220.34,203.56 L220.36,203.11 L220.39,202.66 L220.41,202.21 L220.44,201.76 L220.46,201.32 L220.49,200.87 L220.52,200.42 L220.54,199.97 L220.57,199.52 L220.59,199.07 L220.61,198.62 L220.64,198.17 L220.66,197.72 L220.69,197.27 L220.71,196.82 L220.74,196.37 L220.76,195.92 L220.79,195.47 L220.81,195.02 L220.84,194.57 L220.86,194.13 L220.88,193.68 L220.91,193.23 L220.93,192.78 L220.96,192.33 L220.98,191.88 L221,191.43 L221.03,190.98 L221.05,190.53 L221.08,190.08 L221.1,189.63 L221.12,189.18 L221.15,188.73 L221.17,188.28 L221.19,187.83 L221.22,187.38 L221.24,186.93 L221.26,186.49 L221.29,186.04 L221.31,185.59 L221.33,185.14 L221.36,184.69 L221.38,184.24 L221.4,183.79 L221.43,183.34 L221.45,182.89 L221.47,182.44 L221.5,181.99 L221.52,181.54 L221.54,181.09 L221.57,180.64 L221.59,180.19 L221.61,179.74 L221.64,179.29 L221.66,178.84 L221.68,178.4 L221.7,177.95 L221.73,177.5 L221.75,177.05 L221.77,176.6 L221.8,176.15 L221.82,175.7 L221.84,175.25 L221.86,174.8 L221.89,174.35 L221.91,173.9 L221.93,173.45 L221.95,173 L221.98,172.55 L222,172.1 L222.02,171.65 L222.05,171.2 L222.07,170.75 L222.09,170.3 L222.11,169.86 L222.14,169.41 L222.16,168.96 L222.18,168.51 L222.2,168.06 L222.23,167.61 L222.25,167.16 L222.27,166.71 L222.29,166.26 L222.32,165.81 L222.34,165.36 L222.36,164.91 L222.38,164.46 L222.4,164.01 L222.43,163.56 L222.45,163.11 L222.47,162.66 L222.49,162.21 L222.52,161.76 L222.54,161.32 L222.56,160.87 L222.58,160.42 L222.6,159.97 L222.63,159.52 L222.65,159.07 L222.67,158.62 L222.69,158.17 L222.72,157.72 L222.74,157.27 L222.76,156.82 L222.78,156.42 L222.8,156.28 L222.83,156.55 L222.85,156.98 L222.87,157.43 L222.9,157.88 L222.92,158.33 L222.94,158.78 L222.97,159.22 L222.99,159.67 L223.01,160.12 L223.04,160.57 L223.06,161.02 L223.08,161.47 L223.11,161.92 L223.13,162.37 L223.15,162.82 L223.18,163.27 L223.2,163.72 L223.22,164.17 L223.25,164.62 L223.27,165.07 L223.3,165.52 L223.32,165.97 L223.34,166.42 L223.37,166.86 L223.39,167.31 L223.41,167.76 L223.44,168.21 L223.46,168.66 L223.48,169.11 L223.51,169.56 L223.53,170.01 L223.55,170.46 L223.58,170.91 L223.6,171.36 L223.63,171.81 L223.65,172.26 L223.67,172.71 L223.7,173.16 L223.72,173.61 L223.74,174.06 L223.77,174.5 L223.79,174.95 L223.82,175.4 L223.84,175.85 L223.86,176.3 L223.89,176.75 L223.91,177.2 L223.93,177.65 L223.96,178.1 L223.98,178.55 L224.01,179 L224.03,179.45 L224.05,179.9 L224.08,180.35 L224.1,180.8 L224.13,181.25 L224.15,181.7 L224.17,182.14 L224.2,182.59 L224.22,183.04 L224.25,183.49 L224.27,183.94 L224.3,184.39 L224.32,184.84 L224.34,185.29 L224.37,185.74 L224.39,186.19 L224.42,186.64 L224.44,187.09 L224.47,187.54 L224.49,187.99 L224.51,188.44 L224.54,188.89 L224.56,189.33 L224.59,189.78 L224.61,190.23 L224.64,190.68 L224.66,191.13 L224.69,191.58 L224.71,192.03 L224.74,192.48 L224.76,192.93 L224.79,193.38 L224.81,193.83 L224.84,194.28 L224.86,194.73 L224.89,195.18 L224.91,195.63 L224.94,196.08 L224.96,196.52 L224.99,196.97 L225.01,197.42 L225.04,197.87 L225.06,198.32 L225.09,198.77 L225.11,199.22 L225.14,199.67 L225.17,200.12 L225.19,200.57 L225.22,201.02 L225.24,201.47 L225.27,201.92 L225.3,202.37 L225.32,202.81 L225.35,203.26 L225.37,203.71 L225.4,204.16 L225.43,204.61 L225.45,205.06 L225.48,205.51 L225.51,205.96 L225.53,206.41 L225.56,206.86 L225.59,207.31 L225.62,207.76 L225.64,208.21 L225.67,208.65 L225.7,209.1 L225.73,209.55 L225.76,210 L225.78,210.45 L225.81,210.9 L225.84,211.35 L225.87,211.8 L225.9,212.25 L225.93,212.7 L225.96,213.15 L225.99,213.59 L226.02,214.04 L226.06,214.49 L226.09,214.94 L226.12,215.39 L226.16,215.84 L226.19,216.29 L226.22,216.74 L226.26,217.18 L226.3,217.63 L226.34,218.08 L226.39,218.53 L226.45,218.97 L226.56,219.41 L226.7,219.83 L226.84,220.26 L226.98,220.67 L227.11,220.92 L227.21,220.79 L227.29,220.4 L227.37,219.96 L227.45,219.51 L227.52,219.07 L227.58,218.63 L227.62,218.18 L227.66,217.73 L227.7,217.28 L227.74,216.83 L227.78,216.38 L227.81,215.94 L227.85,215.49 L227.88,215.04 L227.91,214.59 L227.95,214.14 L227.98,213.69 L228.01,213.24 L228.04,212.79 L228.07,212.34 L228.1,211.9 L228.13,211.45 L228.16,211 L228.19,210.55 L228.22,210.1 L228.25,209.65 L228.28,209.2 L228.31,208.75 L228.34,208.3 L228.36,207.85 L228.39,207.4 L228.42,206.96 L228.45,206.51 L228.48,206.06 L228.5,205.61 L228.53,205.16 L228.56,204.71 L228.59,204.26 L228.61,203.81 L228.64,203.36 L228.67,202.91 L228.69,202.46 L228.72,202.01 L228.75,201.56 L228.77,201.12 L228.8,200.67 L228.83,200.22 L228.85,199.77 L228.88,199.32 L228.91,198.87 L228.93,198.42 L228.96,197.97 L228.98,197.52 L229.01,197.07 L229.03,196.62 L229.06,196.17 L229.09,195.72 L229.11,195.27 L229.14,194.83 L229.16,194.38 L229.19,193.93 L229.21,193.48 L229.24,193.03 L229.26,192.58 L229.29,192.13 L229.31,191.68 L229.34,191.23 L229.36,190.78 L229.39,190.33 L229.41,189.88 L229.44,189.43 L229.46,188.98 L229.49,188.53 L229.51,188.09 L229.54,187.64 L229.56,187.19 L229.59,186.74 L229.61,186.29 L229.64,185.84 L229.66,185.39 L229.69,184.94 L229.71,184.49 L229.73,184.04 L229.76,183.59 L229.78,183.14 L229.81,182.69 L229.83,182.24 L229.86,181.79 L229.88,181.34 L229.91,180.9 L229.93,180.45 L229.95,180 L229.98,179.55 L230,179.1 L230.03,178.65 L230.05,178.2 L230.07,177.75 L230.1,177.3 L230.12,176.85 L230.15,176.4 L230.17,175.95 L230.19,175.5 L230.22,175.05 L230.24,174.6 L230.27,174.15 L230.29,173.7 L230.31,173.26 L230.34,172.81 L230.36,172.36 L230.38,171.91 L230.41,171.46 L230.43,171.01 L230.46,170.56 L230.48,170.11 L230.5,169.66 L230.53,169.21 L230.55,168.76 L230.57,168.31 L230.6,167.86 L230.62,167.41 L230.64,166.96 L230.67,166.51 L230.69,166.06 L230.71,165.62 L230.74,165.17 L230.76,164.72 L230.78,164.27 L230.81,163.82 L230.83,163.37 L230.85,162.92 L230.88,162.47 L230.9,162.02 L230.92,161.57 L230.95,161.12 L230.97,160.67 L230.99,160.22 L231.02,159.77 L231.04,159.32 L231.06,158.87 L231.09,158.42 L231.11,157.98 L231.13,157.53 L231.16,157.08 L231.18,156.63 L231.2,156.18 L231.23,155.73 L231.25,155.28 L231.27,154.83 L231.3,154.38 L231.32,153.93 L231.34,153.48 L231.37,153.03 L231.39,152.58 L231.41,152.13 L231.43,151.68 L231.46,151.23 L231.48,150.83 L231.5,150.68 L231.52,150.93 L231.55,151.36 L231.57,151.81 L231.59,152.26 L231.61,152.71 L231.63,153.16 L231.65,153.61 L231.67,154.06 L231.7,154.51 L231.72,154.96 L231.74,155.41 L231.76,155.86 L231.78,156.31 L231.8,156.76 L231.83,157.21 L231.85,157.66 L231.87,158.11 L231.89,158.56 L231.91,159.01 L231.93,159.46 L231.96,159.91 L231.98,160.36 L232,160.8 L232.02,161.25 L232.04,161.7 L232.06,162.15 L232.09,162.6 L232.11,163.05 L232.13,163.5 L232.15,163.95 L232.17,164.4 L232.19,164.85 L232.22,165.3 L232.24,165.75 L232.26,166.2 L232.28,166.65 L232.3,167.1 L232.32,167.55 L232.35,168 L232.37,168.45 L232.39,168.9 L232.41,169.35 L232.43,169.79 L232.46,170.24 L232.48,170.69 L232.5,171.14 L232.52,171.59 L232.54,172.04 L232.57,172.49 L232.59,172.94 L232.61,173.39 L232.63,173.84 L232.65,174.29 L232.68,174.74 L232.7,175.19 L232.72,175.64 L232.74,176.09 L232.76,176.54 L232.79,176.99 L232.81,177.44 L232.83,177.89 L232.85,178.34 L232.87,178.78 L232.9,179.23 L232.92,179.68 L232.94,180.13 L232.96,180.58 L232.99,181.03 L233.01,181.48 L233.03,181.93 L233.05,182.38 L233.08,182.83 L233.1,183.28 L233.12,183.73 L233.14,184.18 L233.16,184.63 L233.19,185.08 L233.21,185.53 L233.23,185.98 L233.26,186.43 L233.28,186.88 L233.3,187.32 L233.32,187.77 L233.35,188.22 L233.37,188.67 L233.39,189.12 L233.41,189.57 L233.44,190.02 L233.46,190.47 L233.48,190.92 L233.51,191.37 L233.53,191.82 L233.55,192.27 L233.57,192.72 L233.6,193.17 L233.62,193.62 L233.64,194.07 L233.67,194.52 L233.69,194.97 L233.71,195.42 L233.74,195.86 L233.76,196.31 L233.78,196.76 L233.81,197.21 L233.83,197.66 L233.86,198.11 L233.88,198.56 L233.9,199.01 L233.93,199.46 L233.95,199.91 L233.97,200.36 L234,200.81 L234.02,201.26 L234.05,201.71 L234.07,202.16 L234.1,202.61 L234.12,203.05 L234.14,203.5 L234.17,203.95 L234.19,204.4 L234.22,204.85 L234.24,205.3 L234.27,205.75 L234.29,206.2 L234.32,206.65 L234.34,207.1 L234.37,207.55 L234.4,208 L234.42,208.45 L234.45,208.9 L234.47,209.35 L234.5,209.79 L234.53,210.24 L234.55,210.69 L234.58,211.14 L234.61,211.59 L234.64,212.04 L234.66,212.49 L234.69,212.94 L234.72,213.39 L234.75,213.84 L234.78,214.29 L234.81,214.74 L234.84,215.18 L234.87,215.63 L234.91,216.08 L234.94,216.53 L234.97,216.98 L235.01,217.43 L235.05,217.88 L235.09,218.32 L235.15,218.77 L235.25,219.21 L235.37,219.64 L235.5,220.07 L235.64,220.5 L235.76,220.85 L235.89,220.91 L236,220.59 L236.1,220.16 L236.21,219.73 L236.29,219.29 L236.35,218.84 L236.4,218.39 L236.46,217.95 L236.51,217.5 L236.55,217.05 L236.6,216.6 L236.65,216.16 L236.69,215.71 L236.74,215.26 L236.78,214.81 L236.82,214.36 L236.86,213.92 L236.9,213.47 L236.95,213.02 L236.99,212.57 L237.03,212.12 L237.06,211.68 L237.1,211.23 L237.14,210.78 L237.18,210.33 L237.22,209.88 L237.26,209.43 L237.3,208.98 L237.33,208.54 L237.37,208.09 L237.41,207.64 L237.45,207.19 L237.48,206.74 L237.52,206.29 L237.56,205.85 L237.59,205.4 L237.63,204.95 L237.66,204.5 L237.7,204.05 L237.74,203.6 L237.77,203.15 L237.81,202.71 L237.84,202.26 L237.88,201.81 L237.91,201.36 L237.95,200.91 L237.98,200.46 L238.02,200.01 L238.05,199.56 L238.09,199.12 L238.12,198.67 L238.16,198.22 L238.19,197.77 L238.23,197.32 L238.26,196.87 L238.3,196.42 L238.33,195.97 L238.36,195.53 L238.4,195.08 L238.43,194.63 L238.47,194.18 L238.5,193.73 L238.53,193.28 L238.57,192.83 L238.6,192.38 L238.63,191.94 L238.67,191.49 L238.7,191.04 L238.74,190.59 L238.77,190.14 L238.8,189.69 L238.84,189.24 L238.87,188.79 L238.9,188.35 L238.94,187.9 L238.97,187.45 L239,187 L239.03,186.55 L239.07,186.1 L239.1,185.65 L239.13,185.2 L239.17,184.75 L239.2,184.31 L239.23,183.86 L239.26,183.41 L239.3,182.96 L239.33,182.51 L239.36,182.06 L239.4,181.61 L239.43,181.16 L239.46,180.72 L239.49,180.27 L239.53,179.82 L239.56,179.37 L239.59,178.92 L239.62,178.47 L239.66,178.02 L239.69,177.57 L239.72,177.12 L239.75,176.68 L239.78,176.23 L239.82,175.78 L239.85,175.33 L239.88,174.88 L239.91,174.43 L239.95,173.98 L239.98,173.53 L240.01,173.08 L240.04,172.64 L240.07,172.19 L240.11,171.74 L240.14,171.29 L240.17,170.84 L240.2,170.39 L240.23,169.94 L240.26,169.52 L240.3,169.28 L240.33,169.44 L240.36,169.85 L240.38,170.3 L240.41,170.75 L240.44,171.2 L240.47,171.65 L240.5,172.1 L240.53,172.55 L240.56,173 L240.59,173.45 L240.62,173.9 L240.65,174.34 L240.68,174.79 L240.71,175.24 L240.73,175.69 L240.76,176.14 L240.79,176.59 L240.82,177.04 L240.85,177.49 L240.88,177.94 L240.91,178.39 L240.94,178.84 L240.97,179.28 L241,179.73 L241.03,180.18 L241.06,180.63 L241.09,181.08 L241.12,181.53 L241.15,181.98 L241.18,182.43 L241.21,182.88 L241.24,183.33 L241.26,183.78 L241.29,184.22 L241.32,184.67 L241.35,185.12 L241.38,185.57 L241.41,186.02 L241.44,186.47 L241.47,186.92 L241.5,187.37 L241.53,187.82 L241.56,188.27 L241.59,188.71 L241.62,189.16 L241.65,189.61 L241.68,190.06 L241.71,190.51 L241.74,190.96 L241.77,191.41 L241.8,191.86 L241.83,192.31 L241.86,192.76 L241.9,193.21 L241.93,193.65 L241.96,194.1 L241.99,194.55 L242.02,195 L242.05,195.45 L242.08,195.9 L242.11,196.35 L242.14,196.8 L242.17,197.25 L242.2,197.7 L242.23,198.14 L242.26,198.59 L242.29,199.04 L242.33,199.49 L242.36,199.94 L242.39,200.39 L242.42,200.84 L242.45,201.29 L242.48,201.74 L242.51,202.18 L242.55,202.63 L242.58,203.08 L242.61,203.53 L242.64,203.98 L242.67,204.43 L242.71,204.88 L242.74,205.33 L242.77,205.78 L242.8,206.22 L242.84,206.67 L242.87,207.12 L242.9,207.57 L242.93,208.02 L242.97,208.47 L243,208.92 L243.04,209.37 L243.07,209.82 L243.1,210.26 L243.14,210.71 L243.17,211.16 L243.21,211.61 L243.24,212.06 L243.28,212.51 L243.31,212.96 L243.35,213.4 L243.39,213.85 L243.42,214.3 L243.46,214.75 L243.5,215.2 L243.54,215.65 L243.58,216.09 L243.62,216.54 L243.66,216.99 L243.71,217.44 L243.75,217.89 L243.8,218.33 L243.85,218.78 L243.92,219.22 L244.03,219.66 L244.18,220.08 L244.36,220.49 L244.52,220.85 L244.66,220.92 L244.77,220.62 L244.86,220.19 L244.94,219.75 L245.02,219.3 L245.08,218.86 L245.12,218.41 L245.17,217.96 L245.21,217.51 L245.25,217.07 L245.29,216.62 L245.33,216.17 L245.37,215.72 L245.4,215.27 L245.44,214.82 L245.48,214.37 L245.51,213.93 L245.55,213.48 L245.58,213.03 L245.61,212.58 L245.65,212.13 L245.68,211.68 L245.71,211.23 L245.75,210.78 L245.78,210.34 L245.81,209.89 L245.84,209.44 L245.88,208.99 L245.91,208.54 L245.94,208.09 L245.97,207.64 L246,207.19 L246.03,206.74 L246.06,206.29 L246.09,205.85 L246.12,205.4 L246.16,204.95 L246.19,204.5 L246.22,204.05 L246.25,203.6 L246.28,203.15 L246.31,202.7 L246.34,202.25 L246.37,201.8 L246.39,201.36 L246.42,200.91 L246.45,200.46 L246.48,200.01 L246.51,199.56 L246.54,199.11 L246.57,198.66 L246.6,198.21 L246.63,197.76 L246.66,197.31 L246.69,196.86 L246.72,196.42 L246.74,195.97 L246.77,195.52 L246.8,195.07 L246.83,194.62 L246.86,194.17 L246.89,193.72 L246.92,193.27 L246.94,192.82 L246.97,192.37 L247,191.92 L247.03,191.48 L247.06,191.03 L247.08,190.58 L247.11,190.13 L247.14,189.68 L247.17,189.23 L247.2,188.78 L247.22,188.33 L247.25,187.88 L247.28,187.43 L247.31,186.98 L247.33,186.53 L247.36,186.08 L247.39,185.64 L247.42,185.19 L247.45,184.74 L247.47,184.29 L247.5,183.84 L247.53,183.39 L247.56,182.94 L247.58,182.49 L247.61,182.04 L247.64,181.59 L247.66,181.14 L247.69,180.69 L247.72,180.25 L247.75,179.8 L247.77,179.35 L247.8,178.9 L247.83,178.45 L247.85,178 L247.88,177.55 L247.91,177.1 L247.94,176.65 L247.96,176.2 L247.99,175.75 L248.02,175.3 L248.04,174.85 L248.07,174.41 L248.1,173.96 L248.12,173.51 L248.15,173.06 L248.18,172.61 L248.21,172.16 L248.23,171.71 L248.26,171.26 L248.29,170.81 L248.31,170.36 L248.34,169.91 L248.37,169.46 L248.39,169.01 L248.42,168.57 L248.45,168.12 L248.47,167.67 L248.5,167.22 L248.53,166.77 L248.55,166.32 L248.58,165.92 L248.6,165.78 L248.63,166.05 L248.66,166.48 L248.69,166.93 L248.71,167.38 L248.74,167.83 L248.77,168.27 L248.8,168.72 L248.82,169.17 L248.85,169.62 L248.88,170.07 L248.91,170.52 L248.93,170.97 L248.96,171.42 L248.99,171.87 L249.01,172.32 L249.04,172.77 L249.07,173.22 L249.1,173.67 L249.12,174.11 L249.15,174.56 L249.18,175.01 L249.21,175.46 L249.23,175.91 L249.26,176.36 L249.29,176.81 L249.32,177.26 L249.35,177.71 L249.37,178.16 L249.4,178.61 L249.43,179.06 L249.46,179.5 L249.48,179.95 L249.51,180.4 L249.54,180.85 L249.57,181.3 L249.6,181.75 L249.62,182.2 L249.65,182.65 L249.68,183.1 L249.71,183.55 L249.73,184 L249.76,184.45 L249.79,184.89 L249.82,185.34 L249.85,185.79 L249.87,186.24 L249.9,186.69 L249.93,187.14 L249.96,187.59 L249.99,188.04 L250.02,188.49 L250.04,188.94 L250.07,189.39 L250.1,189.84 L250.13,190.28 L250.16,190.73 L250.19,191.18 L250.21,191.63 L250.24,192.08 L250.27,192.53 L250.3,192.98 L250.33,193.43 L250.36,193.88 L250.39,194.33 L250.42,194.78 L250.44,195.22 L250.47,195.67 L250.5,196.12 L250.53,196.57 L250.56,197.02 L250.59,197.47 L250.62,197.92 L250.65,198.37 L250.68,198.82 L250.71,199.27 L250.74,199.72 L250.76,200.16 L250.79,200.61 L250.82,201.06 L250.85,201.51 L250.88,201.96 L250.91,202.41 L250.94,202.86 L250.97,203.31 L251,203.76 L251.03,204.21 L251.06,204.66 L251.09,205.1 L251.13,205.55 L251.16,206 L251.19,206.45 L251.22,206.9 L251.25,207.35 L251.28,207.8 L251.31,208.25 L251.34,208.7 L251.38,209.14 L251.41,209.59 L251.44,210.04 L251.47,210.49 L251.51,210.94 L251.54,211.39 L251.57,211.84 L251.61,212.29 L251.64,212.74 L251.67,213.18 L251.71,213.63 L251.74,214.08 L251.78,214.53 L251.82,214.98 L251.85,215.43 L251.89,215.88 L251.93,216.32 L251.97,216.77 L252.01,217.22 L252.05,217.67 L252.1,218.12 L252.15,218.56 L252.2,219.01 L252.29,219.45 L252.44,219.87 L252.6,220.29 L252.76,220.69 L252.91,220.93 L253.03,220.79 L253.13,220.39 L253.22,219.96 L253.31,219.51 L253.38,219.07 L253.43,218.62 L253.48,218.17 L253.52,217.73 L253.57,217.28 L253.61,216.83 L253.65,216.38 L253.69,215.94 L253.73,215.49 L253.77,215.04 L253.81,214.59 L253.85,214.14 L253.88,213.69 L253.92,213.24 L253.96,212.8 L253.99,212.35 L254.03,211.9 L254.07,211.45 L254.1,211 L254.14,210.55 L254.17,210.1 L254.21,209.66 L254.24,209.21 L254.27,208.76 L254.31,208.31 L254.34,207.86 L254.38,207.41 L254.41,206.96 L254.44,206.51 L254.48,206.07 L254.51,205.62 L254.54,205.17 L254.57,204.72 L254.61,204.27 L254.64,203.82 L254.67,203.37 L254.7,202.92 L254.74,202.47 L254.77,202.03 L254.8,201.58 L254.83,201.13 L254.86,200.68 L254.89,200.23 L254.93,199.78 L254.96,199.33 L254.99,198.88 L255.02,198.43 L255.05,197.99 L255.08,197.54 L255.11,197.09 L255.14,196.64 L255.18,196.19 L255.21,195.74 L255.24,195.29 L255.27,194.84 L255.3,194.39 L255.33,193.94 L255.36,193.5 L255.39,193.05 L255.42,192.6 L255.45,192.15 L255.48,191.7 L255.51,191.25 L255.54,190.8 L255.57,190.35 L255.6,189.9 L255.63,189.45 L255.66,189.01 L255.69,188.56 L255.72,188.11 L255.75,187.66 L255.78,187.21 L255.81,186.76 L255.84,186.31 L255.87,185.86 L255.9,185.41 L255.93,184.96 L255.96,184.51 L255.99,184.07 L256.02,183.62 L256.05,183.17 L256.08,182.72 L256.11,182.27 L256.14,181.82 L256.17,181.37 L256.2,180.92 L256.23,180.47 L256.26,180.02 L256.29,179.58 L256.31,179.13 L256.34,178.68 L256.37,178.23 L256.4,177.78 L256.43,177.33 L256.46,176.88 L256.49,176.43 L256.52,175.98 L256.55,175.53 L256.58,175.08 L256.61,174.64 L256.63,174.19 L256.66,173.74 L256.69,173.29 L256.72,172.84 L256.75,172.39 L256.78,171.94 L256.81,171.49 L256.84,171.04 L256.87,170.59 L256.89,170.14 L256.92,169.69 L256.95,169.25 L256.98,168.87 L257.01,168.8 L257.04,169.11 L257.07,169.55 L257.1,170 L257.12,170.45 L257.15,170.9 L257.18,171.35 L257.21,171.8 L257.24,172.25 L257.27,172.69 L257.3,173.14 L257.33,173.59 L257.36,174.04 L257.39,174.49 L257.41,174.94 L257.44,175.39 L257.47,175.84 L257.5,176.29 L257.53,176.74 L257.56,177.19 L257.59,177.63 L257.62,178.08 L257.65,178.53 L257.68,178.98 L257.71,179.43 L257.73,179.88 L257.76,180.33 L257.79,180.78 L257.82,181.23 L257.85,181.68 L257.88,182.13 L257.91,182.57 L257.94,183.02 L257.97,183.47 L258,183.92 L258.03,184.37 L258.06,184.82 L258.09,185.27 L258.12,185.72 L258.15,186.17 L258.18,186.62 L258.2,187.07 L258.23,187.51 L258.26,187.96 L258.29,188.41 L258.32,188.86 L258.35,189.31 L258.38,189.76 L258.41,190.21 L258.44,190.66 L258.47,191.11 L258.5,191.56 L258.53,192 L258.56,192.45 L258.59,192.9 L258.62,193.35 L258.65,193.8 L258.68,194.25 L258.71,194.7 L258.74,195.15 L258.77,195.6 L258.8,196.05 L258.84,196.5 L258.87,196.94 L258.9,197.39 L258.93,197.84 L258.96,198.29 L258.99,198.74 L259.02,199.19 L259.05,199.64 L259.08,200.09 L259.11,200.54 L259.14,200.98 L259.17,201.43 L259.21,201.88 L259.24,202.33 L259.27,202.78 L259.3,203.23 L259.33,203.68 L259.36,204.13 L259.4,204.58 L259.43,205.03 L259.46,205.47 L259.49,205.92 L259.52,206.37 L259.56,206.82 L259.59,207.27 L259.62,207.72 L259.65,208.17 L259.69,208.62 L259.72,209.06 L259.75,209.51 L259.79,209.96 L259.82,210.41 L259.86,210.86 L259.89,211.31 L259.93,211.76 L259.96,212.21 L260,212.65 L260.03,213.1 L260.07,213.55 L260.1,214 L260.14,214.45 L260.18,214.9 L260.22,215.35 L260.26,215.79 L260.3,216.24 L260.34,216.69 L260.38,217.14 L260.42,217.59 L260.47,218.03 L260.52,218.48 L260.57,218.93 L260.65,219.37 L260.78,219.8 L260.94,220.21 L261.12,220.62 L261.28,220.92 L261.42,220.85 L261.54,220.49 L261.66,220.06 L261.76,219.62 L261.84,219.18 L261.9,218.73 L261.96,218.29 L262.01,217.84 L262.07,217.39 L262.12,216.95 L262.17,216.5 L262.22,216.05 L262.27,215.6 L262.32,215.16 L262.36,214.71 L262.41,214.26 L262.45,213.81 L262.5,213.37 L262.54,212.92 L262.59,212.47 L262.63,212.02 L262.67,211.57 L262.72,211.13 L262.76,210.68 L262.8,210.23 L262.84,209.78 L262.89,209.33 L262.93,208.89 L262.97,208.44 L263.01,207.99 L263.05,207.54 L263.09,207.09 L263.13,206.64 L263.17,206.2 L263.21,205.75 L263.25,205.3 L263.29,204.85 L263.33,204.4 L263.37,203.96 L263.41,203.51 L263.45,203.06 L263.49,202.61 L263.53,202.16 L263.57,201.71 L263.61,201.27 L263.65,200.82 L263.69,200.37 L263.72,199.92 L263.76,199.47 L263.8,199.02 L263.84,198.57 L263.88,198.13 L263.92,197.68 L263.95,197.23 L263.99,196.78 L264.03,196.33 L264.07,195.88 L264.1,195.44 L264.14,194.99 L264.18,194.54 L264.22,194.09 L264.25,193.64 L264.29,193.19 L264.33,192.74 L264.37,192.3 L264.4,191.85 L264.44,191.4 L264.48,190.95 L264.51,190.5 L264.55,190.05 L264.59,189.61 L264.63,189.16 L264.66,188.71 L264.7,188.26 L264.74,187.81 L264.77,187.36 L264.81,186.91 L264.85,186.47 L264.88,186.02 L264.92,185.57 L264.96,185.12 L264.99,184.67 L265.03,184.22 L265.06,183.77 L265.1,183.33 L265.14,182.88 L265.17,182.43 L265.21,181.98 L265.25,181.53 L265.28,181.08 L265.32,180.63 L265.35,180.19 L265.39,179.74 L265.43,179.29 L265.46,178.84 L265.5,178.39 L265.53,177.94 L265.57,177.49 L265.61,177.05 L265.64,176.6 L265.68,176.15 L265.71,175.7 L265.75,175.26 L265.78,174.92 L265.82,174.94 L265.85,175.3 L265.88,175.74 L265.92,176.19 L265.95,176.64 L265.98,177.09 L266.01,177.54 L266.05,177.99 L266.08,178.44 L266.11,178.89 L266.14,179.34 L266.18,179.78 L266.21,180.23 L266.24,180.68 L266.28,181.13 L266.31,181.58 L266.34,182.03 L266.37,182.48 L266.41,182.93 L266.44,183.37 L266.47,183.82 L266.51,184.27 L266.54,184.72 L266.57,185.17 L266.6,185.62 L266.64,186.07 L266.67,186.52 L266.7,186.97 L266.74,187.41 L266.77,187.86 L266.8,188.31 L266.84,188.76 L266.87,189.21 L266.9,189.66 L266.94,190.11 L266.97,190.56 L267,191 L267.04,191.45 L267.07,191.9 L267.1,192.35 L267.14,192.8 L267.17,193.25 L267.21,193.7 L267.24,194.15 L267.27,194.59 L267.31,195.04 L267.34,195.49 L267.37,195.94 L267.41,196.39 L267.44,196.84 L267.48,197.29 L267.51,197.74 L267.55,198.18 L267.58,198.63 L267.61,199.08 L267.65,199.53 L267.68,199.98 L267.72,200.43 L267.75,200.88 L267.79,201.33 L267.82,201.77 L267.86,202.22 L267.89,202.67 L267.93,203.12 L267.96,203.57 L268,204.02 L268.03,204.47 L268.07,204.91 L268.1,205.36 L268.14,205.81 L268.18,206.26 L268.21,206.71 L268.25,207.16 L268.28,207.61 L268.32,208.06 L268.36,208.5 L268.39,208.95 L268.43,209.4 L268.47,209.85 L268.51,210.3 L268.54,210.75 L268.58,211.19 L268.62,211.64 L268.66,212.09 L268.7,212.54 L268.74,212.99 L268.78,213.44 L268.82,213.88 L268.86,214.33 L268.9,214.78 L268.94,215.23 L268.98,215.68 L269.03,216.12 L269.07,216.57 L269.12,217.02 L269.17,217.47 L269.22,217.92 L269.27,218.36 L269.32,218.81 L269.39,219.25 L269.49,219.69 L269.64,220.1 L269.83,220.51 L270.01,220.86 L270.16,220.92 L270.27,220.61 L270.36,220.18 L270.45,219.74 L270.52,219.29 L270.57,218.85 L270.62,218.4 L270.66,217.95 L270.71,217.5 L270.75,217.06 L270.79,216.61 L270.83,216.16 L270.86,215.71 L270.9,215.26 L270.94,214.81 L270.97,214.36 L271.01,213.92 L271.04,213.47 L271.08,213.02 L271.11,212.57 L271.15,212.12 L271.18,211.67 L271.21,211.22 L271.25,210.77 L271.28,210.33 L271.31,209.88 L271.35,209.43 L271.38,208.98 L271.41,208.53 L271.44,208.08 L271.47,207.63 L271.5,207.18 L271.54,206.73 L271.57,206.29 L271.6,205.84 L271.63,205.39 L271.66,204.94 L271.69,204.49 L271.72,204.04 L271.75,203.59 L271.78,203.14 L271.81,202.69 L271.84,202.24 L271.87,201.8 L271.9,201.35 L271.93,200.9 L271.96,200.45 L271.99,200 L272.02,199.55 L272.05,199.1 L272.08,198.65 L272.11,198.2 L272.14,197.75 L272.17,197.31 L272.2,196.86 L272.23,196.41 L272.26,195.96 L272.29,195.51 L272.31,195.06 L272.34,194.61 L272.37,194.16 L272.4,193.71 L272.43,193.26 L272.46,192.81 L272.49,192.37 L272.52,191.92 L272.54,191.47 L272.57,191.02 L272.6,190.57 L272.63,190.12 L272.66,189.67 L272.69,189.22 L272.71,188.77 L272.74,188.32 L272.77,187.87 L272.8,187.42 L272.83,186.98 L272.86,186.53 L272.88,186.08 L272.91,185.63 L272.94,185.18 L272.97,184.73 L273,184.28 L273.02,183.83 L273.05,183.38 L273.08,182.93 L273.11,182.48 L273.13,182.03 L273.16,181.59 L273.19,181.14 L273.22,180.69 L273.25,180.24 L273.27,179.79 L273.3,179.34 L273.33,178.89 L273.36,178.44 L273.38,177.99 L273.41,177.54 L273.44,177.09 L273.47,176.64 L273.49,176.2 L273.52,175.75 L273.55,175.3 L273.58,174.85 L273.6,174.4 L273.63,173.95 L273.66,173.5 L273.69,173.05 L273.71,172.6 L273.74,172.15 L273.77,171.7 L273.79,171.25 L273.82,170.8 L273.85,170.36 L273.88,169.95 L273.9,169.78 L273.93,170.01 L273.96,170.44 L273.99,170.89 L274.02,171.34 L274.05,171.79 L274.08,172.24 L274.11,172.69 L274.14,173.14 L274.17,173.58 L274.2,174.03 L274.23,174.48 L274.26,174.93 L274.29,175.38 L274.31,175.83 L274.34,176.28 L274.37,176.73 L274.4,177.18 L274.43,177.63 L274.46,178.08 L274.49,178.52 L274.52,178.97 L274.55,179.42 L274.58,179.87 L274.61,180.32 L274.64,180.77 L274.67,181.22 L274.7,181.67 L274.73,182.12 L274.76,182.57 L274.79,183.02 L274.82,183.46 L274.85,183.91 L274.88,184.36 L274.91,184.81 L274.94,185.26 L274.97,185.71 L275,186.16 L275.03,186.61 L275.06,187.06 L275.09,187.51 L275.12,187.95 L275.15,188.4 L275.18,188.85 L275.21,189.3 L275.24,189.75 L275.27,190.2 L275.3,190.65 L275.33,191.1 L275.36,191.55 L275.39,192 L275.42,192.44 L275.46,192.89 L275.49,193.34 L275.52,193.79 L275.55,194.24 L275.58,194.69 L275.61,195.14 L275.64,195.59 L275.67,196.04 L275.7,196.49 L275.73,196.93 L275.76,197.38 L275.8,197.83 L275.83,198.28 L275.86,198.73 L275.89,199.18 L275.92,199.63 L275.95,200.08 L275.98,200.53 L276.02,200.97 L276.05,201.42 L276.08,201.87 L276.11,202.32 L276.14,202.77 L276.17,203.22 L276.21,203.67 L276.24,204.12 L276.27,204.57 L276.3,205.01 L276.34,205.46 L276.37,205.91 L276.4,206.36 L276.44,206.81 L276.47,207.26 L276.5,207.71 L276.54,208.16 L276.57,208.61 L276.6,209.05 L276.64,209.5 L276.67,209.95 L276.71,210.4 L276.74,210.85 L276.78,211.3 L276.81,211.75 L276.85,212.2 L276.88,212.64 L276.92,213.09 L276.96,213.54 L276.99,213.99 L277.03,214.44 L277.07,214.89 L277.11,215.33 L277.15,215.78 L277.19,216.23 L277.23,216.68 L277.27,217.13 L277.32,217.57 L277.36,218.02 L277.41,218.47 L277.47,218.92 L277.54,219.36 L277.67,219.79 L277.83,220.2 L278.01,220.61 L278.17,220.91 L278.31,220.86 L278.43,220.5 L278.54,220.07 L278.64,219.63 L278.7,219.19 L278.76,218.74 L278.82,218.29 L278.87,217.85 L278.92,217.4 L278.97,216.95 L279.02,216.5 L279.06,216.06 L279.11,215.61 L279.15,215.16 L279.2,214.71 L279.24,214.26 L279.28,213.82 L279.33,213.37 L279.37,212.92 L279.41,212.47 L279.45,212.02 L279.49,211.58 L279.53,211.13 L279.57,210.68 L279.61,210.23 L279.65,209.78 L279.69,209.33 L279.73,208.89 L279.77,208.44 L279.81,207.99 L279.85,207.54 L279.89,207.09 L279.93,206.64 L279.96,206.2 L280,205.75 L280.04,205.3 L280.08,204.85 L280.12,204.4 L280.15,203.95 L280.19,203.51 L280.23,203.06 L280.26,202.61 L280.3,202.16 L280.34,201.71 L280.38,201.26 L280.41,200.81 L280.45,200.37 L280.48,199.92 L280.52,199.47 L280.56,199.02 L280.59,198.57 L280.63,198.12 L280.67,197.67 L280.7,197.23 L280.74,196.78 L280.77,196.33 L280.81,195.88 L280.85,195.43 L280.88,194.98 L280.92,194.53 L280.95,194.09 L280.99,193.64 L281.02,193.19 L281.06,192.74 L281.09,192.29 L281.13,191.84 L281.16,191.39 L281.2,190.94 L281.23,190.5 L281.27,190.05 L281.3,189.6 L281.34,189.15 L281.37,188.7 L281.41,188.25 L281.44,187.8 L281.48,187.36 L281.51,186.91 L281.55,186.46 L281.58,186.01 L281.62,185.56 L281.65,185.11 L281.69,184.66 L281.72,184.21 L281.75,183.77 L281.79,183.32 L281.82,182.87 L281.86,182.42 L281.89,181.97 L281.93,181.52 L281.96,181.07 L281.99,180.62 L282.03,180.18 L282.06,179.73 L282.1,179.28 L282.13,178.83 L282.17,178.38 L282.2,177.93 L282.23,177.48 L282.27,177.07 L282.3,176.87 L282.34,177.09 L282.37,177.51 L282.4,177.96 L282.44,178.41 L282.47,178.86 L282.51,179.31 L282.54,179.76 L282.57,180.2 L282.61,180.65 L282.64,181.1 L282.68,181.55 L282.71,182 L282.74,182.45 L282.78,182.9 L282.81,183.35 L282.85,183.79 L282.88,184.24 L282.92,184.69 L282.95,185.14 L282.98,185.59 L283.02,186.04 L283.05,186.49 L283.09,186.94 L283.12,187.38 L283.16,187.83 L283.19,188.28 L283.23,188.73 L283.26,189.18 L283.3,189.63 L283.33,190.08 L283.37,190.52 L283.4,190.97 L283.44,191.42 L283.47,191.87 L283.51,192.32 L283.54,192.77 L283.58,193.22 L283.61,193.67 L283.65,194.11 L283.68,194.56 L283.72,195.01 L283.75,195.46 L283.79,195.91 L283.82,196.36 L283.86,196.81 L283.89,197.25 L283.93,197.7 L283.96,198.15 L284,198.6 L284.04,199.05 L284.07,199.5 L284.11,199.95 L284.14,200.4 L284.18,200.84 L284.22,201.29 L284.25,201.74 L284.29,202.19 L284.32,202.64 L284.36,203.09 L284.4,203.54 L284.43,203.98 L284.47,204.43 L284.51,204.88 L284.55,205.33 L284.58,205.78 L284.62,206.23 L284.66,206.67 L284.69,207.12 L284.73,207.57 L284.77,208.02 L284.81,208.47 L284.85,208.92 L284.89,209.37 L284.92,209.81 L284.96,210.26 L285,210.71 L285.04,211.16 L285.08,211.61 L285.12,212.06 L285.16,212.5 L285.2,212.95 L285.24,213.4 L285.28,213.85 L285.33,214.3 L285.37,214.74 L285.41,215.19 L285.46,215.64 L285.5,216.09 L285.55,216.54 L285.6,216.98 L285.64,217.43 L285.69,217.88 L285.75,218.32 L285.8,218.77 L285.87,219.22 L285.96,219.65 L286.11,220.07 L286.3,220.48 L286.49,220.83 L286.66,220.93 L286.8,220.66 L286.92,220.24 L287.02,219.8 L287.1,219.36 L287.16,218.91 L287.22,218.47 L287.28,218.02 L287.33,217.57 L287.38,217.13 L287.43,216.68 L287.48,216.23 L287.53,215.79 L287.58,215.34 L287.62,214.89 L287.67,214.44 L287.72,214 L287.76,213.55 L287.81,213.1 L287.85,212.65 L287.89,212.2 L287.94,211.76 L287.98,211.31 L288.02,210.86 L288.07,210.41 L288.11,209.96 L288.15,209.52 L288.19,209.07 L288.23,208.62 L288.28,208.17 L288.32,207.72 L288.36,207.28 L288.4,206.83 L288.44,206.38 L288.48,205.93 L288.52,205.48 L288.56,205.03 L288.6,204.59 L288.64,204.14 L288.68,203.69 L288.72,203.24 L288.76,202.79 L288.8,202.34 L288.84,201.9 L288.88,201.45 L288.92,201 L288.95,200.55 L288.99,200.1 L289.03,199.65 L289.07,199.21 L289.11,198.76 L289.15,198.31 L289.19,197.86 L289.22,197.41 L289.26,196.96 L289.3,196.52 L289.34,196.07 L289.38,195.62 L289.41,195.17 L289.45,194.72 L289.49,194.27 L289.53,193.83 L289.57,193.38 L289.6,192.93 L289.64,192.48 L289.68,192.03 L289.72,191.58 L289.75,191.13 L289.79,190.69 L289.83,190.24 L289.87,189.79 L289.9,189.34 L289.94,188.89 L289.98,188.44 L290.01,187.99 L290.05,187.55 L290.09,187.1 L290.12,186.65 L290.16,186.2 L290.2,185.75 L290.24,185.3 L290.27,184.86 L290.31,184.41 L290.35,183.96 L290.38,183.51 L290.42,183.06 L290.46,182.61 L290.49,182.16 L290.53,181.72 L290.56,181.27 L290.6,180.82 L290.64,180.37 L290.67,179.98 L290.71,179.89 L290.75,180.19 L290.78,180.62 L290.82,181.07 L290.86,181.52 L290.89,181.97 L290.93,182.42 L290.97,182.87 L291,183.32 L291.04,183.76 L291.08,184.21 L291.11,184.66 L291.15,185.11 L291.19,185.56 L291.22,186.01 L291.26,186.46 L291.3,186.9 L291.33,187.35 L291.37,187.8 L291.41,188.25 L291.44,188.7 L291.48,189.15 L291.52,189.6 L291.55,190.04 L291.59,190.49 L291.63,190.94 L291.67,191.39 L291.7,191.84 L291.74,192.29 L291.78,192.73 L291.82,193.18 L291.85,193.63 L291.89,194.08 L291.93,194.53 L291.97,194.98 L292,195.43 L292.04,195.87 L292.08,196.32 L292.12,196.77 L292.15,197.22 L292.19,197.67 L292.23,198.12 L292.27,198.56 L292.31,199.01 L292.34,199.46 L292.38,199.91 L292.42,200.36 L292.46,200.81 L292.5,201.26 L292.54,201.7 L292.57,202.15 L292.61,202.6 L292.65,203.05 L292.69,203.5 L292.73,203.95 L292.77,204.39 L292.81,204.84 L292.85,205.29 L292.89,205.74 L292.93,206.19 L292.97,206.64 L293.01,207.08 L293.05,207.53 L293.09,207.98 L293.13,208.43 L293.17,208.88 L293.21,209.32 L293.25,209.77 L293.29,210.22 L293.33,210.67 L293.37,211.12 L293.42,211.57 L293.46,212.01 L293.5,212.46 L293.54,212.91 L293.59,213.36 L293.63,213.8 L293.68,214.25 L293.72,214.7 L293.77,215.15 L293.81,215.6 L293.86,216.04 L293.91,216.49 L293.96,216.94 L294.01,217.39 L294.06,217.83 L294.12,218.28 L294.18,218.73 L294.24,219.17 L294.32,219.61 L294.46,220.03 L294.65,220.43 L294.86,220.8 L295.04,220.94 L295.18,220.71 L295.31,220.3 L295.41,219.86 L295.49,219.42 L295.56,218.97 L295.62,218.53 L295.67,218.08 L295.73,217.63 L295.78,217.19 L295.83,216.74 L295.88,216.29 L295.93,215.85 L295.98,215.4 L296.03,214.95 L296.08,214.5 L296.12,214.06 L296.17,213.61 L296.22,213.16 L296.26,212.71 L296.31,212.27 L296.35,211.82 L296.4,211.37 L296.44,210.92 L296.48,210.47 L296.53,210.03 L296.57,209.58 L296.61,209.13 L296.66,208.68 L296.7,208.23 L296.74,207.79 L296.78,207.34 L296.83,206.89 L296.87,206.44 L296.91,205.99 L296.95,205.55 L296.99,205.1 L297.03,204.65 L297.08,204.2 L297.12,203.75 L297.16,203.31 L297.2,202.86 L297.24,202.41 L297.28,201.96 L297.32,201.51 L297.36,201.06 L297.4,200.62 L297.44,200.17 L297.48,199.72 L297.52,199.27 L297.56,198.82 L297.6,198.37 L297.64,197.93 L297.68,197.48 L297.72,197.03 L297.76,196.58 L297.8,196.13 L297.84,195.68 L297.88,195.24 L297.91,194.79 L297.95,194.34 L297.99,193.89 L298.03,193.44 L298.07,192.99 L298.11,192.55 L298.15,192.1 L298.19,191.65 L298.23,191.2 L298.26,190.75 L298.3,190.3 L298.34,189.86 L298.38,189.41 L298.42,188.96 L298.46,188.51 L298.5,188.06 L298.53,187.61 L298.57,187.17 L298.61,186.72 L298.65,186.27 L298.69,185.82 L298.72,185.37 L298.76,184.92 L298.8,184.48 L298.84,184.03 L298.88,183.66 L298.92,183.61 L298.96,183.93 L299,184.37 L299.04,184.81 L299.08,185.26 L299.12,185.71 L299.16,186.16 L299.2,186.61 L299.24,187.06 L299.28,187.5 L299.32,187.95 L299.36,188.4 L299.4,188.85 L299.44,189.3 L299.48,189.75 L299.52,190.19 L299.56,190.64 L299.6,191.09 L299.64,191.54 L299.68,191.99 L299.72,192.43 L299.76,192.88 L299.8,193.33 L299.84,193.78 L299.88,194.23 L299.92,194.68 L299.96,195.12 L300.01,195.57 L300.05,196.02 L300.09,196.47 L300.13,196.92 L300.17,197.36 L300.21,197.81 L300.25,198.26 L300.29,198.71 L300.34,199.16 L300.38,199.61 L300.42,200.05 L300.46,200.5 L300.5,200.95 L300.54,201.4 L300.59,201.85 L300.63,202.29 L300.67,202.74 L300.71,203.19 L300.75,203.64 L300.8,204.09 L300.84,204.53 L300.88,204.98 L300.92,205.43 L300.97,205.88 L301.01,206.33 L301.05,206.77 L301.1,207.22 L301.14,207.67 L301.18,208.12 L301.23,208.57 L301.27,209.01 L301.32,209.46 L301.36,209.91 L301.41,210.36 L301.45,210.8 L301.5,211.25 L301.54,211.7 L301.59,212.15 L301.63,212.6 L301.68,213.04 L301.73,213.49 L301.78,213.94 L301.82,214.39 L301.87,214.83 L301.92,215.28 L301.97,215.73 L302.02,216.17 L302.07,216.62 L302.13,217.07 L302.18,217.52 L302.24,217.96 L302.3,218.41 L302.36,218.85 L302.43,219.3 L302.52,219.74 L302.67,220.15 L302.88,220.55 L303.09,220.88 L303.28,220.92 L303.43,220.62 L303.57,220.2 L303.67,219.76 L303.75,219.32 L303.82,218.88 L303.89,218.43 L303.95,217.99 L304.01,217.54 L304.07,217.09 L304.12,216.65 L304.18,216.2 L304.23,215.75 L304.29,215.31 L304.34,214.86 L304.39,214.41 L304.45,213.97 L304.5,213.52 L304.55,213.07 L304.6,212.62 L304.65,212.18 L304.7,211.73 L304.75,211.28 L304.79,210.84 L304.84,210.39 L304.89,209.94 L304.94,209.49 L304.99,209.05 L305.03,208.6 L305.08,208.15 L305.13,207.7 L305.17,207.26 L305.22,206.81 L305.27,206.36 L305.31,205.91 L305.36,205.46 L305.4,205.02 L305.45,204.57 L305.5,204.12 L305.54,203.67 L305.59,203.23 L305.63,202.78 L305.68,202.33 L305.72,201.88 L305.77,201.43 L305.81,200.99 L305.86,200.54 L305.9,200.09 L305.94,199.64 L305.99,199.2 L306.03,198.75 L306.08,198.3 L306.12,197.85 L306.16,197.4 L306.21,196.96 L306.25,196.51 L306.3,196.06 L306.34,195.61 L306.38,195.16 L306.43,194.72 L306.47,194.27 L306.51,193.82 L306.56,193.37 L306.6,192.92 L306.64,192.48 L306.69,192.03 L306.73,191.58 L306.77,191.13 L306.81,190.68 L306.86,190.24 L306.9,189.79 L306.94,189.34 L306.98,188.89 L307.03,188.44 L307.07,188 L307.11,187.55 L307.15,187.1 L307.2,186.65 L307.24,186.2 L307.28,185.76 L307.32,185.31 L307.37,184.91 L307.41,184.78 L307.45,185.05 L307.48,185.48 L307.52,185.93 L307.56,186.38 L307.6,186.83 L307.63,187.28 L307.67,187.73 L307.71,188.18 L307.75,188.62 L307.79,189.07 L307.82,189.52 L307.86,189.97 L307.9,190.42 L307.94,190.87 L307.98,191.31 L308.01,191.76 L308.05,192.21 L308.09,192.66 L308.13,193.11 L308.17,193.56 L308.21,194 L308.24,194.45 L308.28,194.9 L308.32,195.35 L308.36,195.8 L308.4,196.25 L308.44,196.7 L308.48,197.14 L308.52,197.59 L308.55,198.04 L308.59,198.49 L308.63,198.94 L308.67,199.39 L308.71,199.83 L308.75,200.28 L308.79,200.73 L308.83,201.18 L308.87,201.63 L308.91,202.08 L308.95,202.52 L308.99,202.97 L309.03,203.42 L309.07,203.87 L309.11,204.32 L309.15,204.76 L309.19,205.21 L309.23,205.66 L309.27,206.11 L309.31,206.56 L309.35,207.01 L309.39,207.45 L309.43,207.9 L309.48,208.35 L309.52,208.8 L309.56,209.25 L309.6,209.69 L309.64,210.14 L309.69,210.59 L309.73,211.04 L309.77,211.49 L309.82,211.93 L309.86,212.38 L309.91,212.83 L309.95,213.28 L310,213.73 L310.05,214.17 L310.09,214.62 L310.14,215.07 L310.19,215.51 L310.24,215.96 L310.29,216.41 L310.35,216.86 L310.41,217.3 L310.47,217.75 L310.55,218.19 L310.69,218.61 L310.89,219.01 L311.13,219.36 L311.46,219.58 L311.88,219.67 L312.33,219.72 L312.77,219.77 L313.22,219.82 L313.67,219.86 L314.12,219.91 L314.56,219.96 L315.01,220.01 L315.46,220.06 L315.91,220.1 L316.34,220.15 L316.67,220.19" fill="none" stroke="#1e1e1e" stroke-width="1.1" stroke-dasharray="1.9,1.6" stroke-linejoin="round"/>
<rect x="251.2" y="137.3" width="73.3" height="21.7" fill="#fff" stroke="#cfcfcf" stroke-width="0.6"/>
<path d="M253.6,143.8 H272.8" stroke="#111" stroke-width="1.3" stroke-dasharray="2.4,1.5"/>
<path d="M253.6,154.1 H272.8" stroke="#3ef03e" stroke-width="1.5"/>
<text x="275.2" y="146.8" font-size="8.3" fill="#1a1a1a">Cycles = 0</text>
<text x="275.2" y="157.1" font-size="8.3" fill="#1a1a1a">Cycles = 100</text>
</svg>
</body></html>
